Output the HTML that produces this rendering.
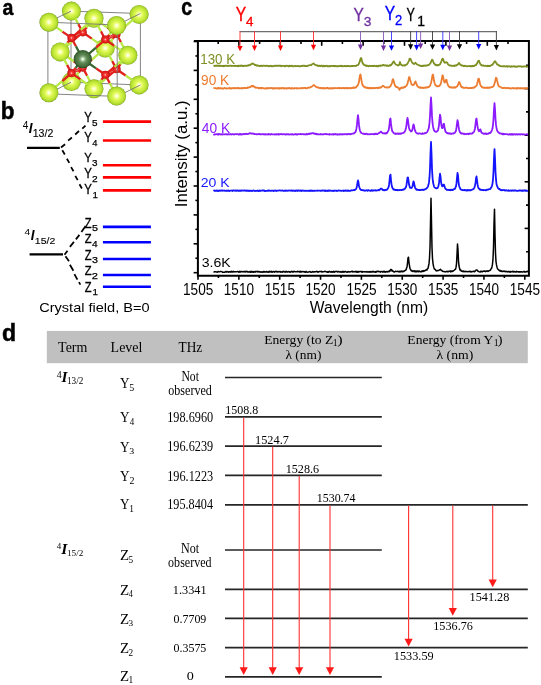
<!DOCTYPE html>
<html><head><meta charset="utf-8"><title>Figure</title>
<style>html,body{margin:0;padding:0;background:#fff;} svg{display:block;}</style>
</head><body>
<svg width="541" height="685" viewBox="0 0 541 685">
<defs>
<radialGradient id="gg" cx="50%" cy="50%" r="50%">
<stop offset="0" stop-color="#ffffff"/><stop offset="0.08" stop-color="#fcffe0"/><stop offset="0.22" stop-color="#f2ff94"/><stop offset="0.42" stop-color="#dcf650"/><stop offset="0.7" stop-color="#c3e93a"/><stop offset="0.88" stop-color="#acd62c"/><stop offset="0.96" stop-color="#90bc20"/><stop offset="1" stop-color="#6c9212"/>
</radialGradient>
<radialGradient id="gd" cx="50%" cy="50%" r="50%">
<stop offset="0" stop-color="#f6fff2"/><stop offset="0.12" stop-color="#d2eccb"/><stop offset="0.3" stop-color="#84a87c"/><stop offset="0.5" stop-color="#5a8450"/><stop offset="0.8" stop-color="#466f3d"/><stop offset="0.95" stop-color="#2f5529"/><stop offset="1" stop-color="#1f3b1b"/>
</radialGradient>
<radialGradient id="gr" cx="50%" cy="50%" r="50%">
<stop offset="0" stop-color="#ffd6d0"/><stop offset="0.3" stop-color="#f43a36"/><stop offset="0.8" stop-color="#e01818"/><stop offset="1" stop-color="#a80e0e"/>
</radialGradient>
</defs>
<rect width="541" height="685" fill="#fff"/>
<text x="2.39" y="14.64" font-size="22.93" font-family="'Liberation Sans', Arial, sans-serif" fill="#000" font-weight="bold" textLength="10.88" lengthAdjust="spacingAndGlyphs" stroke="#000" stroke-width="0.5" >a</text>
<text x="0.69" y="118.61" font-size="24.67" font-family="'Liberation Sans', Arial, sans-serif" fill="#000" font-weight="bold" textLength="13.74" lengthAdjust="spacingAndGlyphs" stroke="#000" stroke-width="0.5" >b</text>
<text x="181.29" y="15.22" font-size="24.00" font-family="'Liberation Sans', Arial, sans-serif" fill="#000" font-weight="bold" textLength="10.90" lengthAdjust="spacingAndGlyphs" stroke="#000" stroke-width="0.5" >c</text>
<text x="1.98" y="341.12" font-size="24.00" font-family="'Liberation Sans', Arial, sans-serif" fill="#000" font-weight="bold" textLength="14.10" lengthAdjust="spacingAndGlyphs" stroke="#000" stroke-width="0.5" >d</text>
<line x1="71.00" y1="11.20" x2="71.00" y2="82.20" stroke="#767676" stroke-width="0.9"/>
<line x1="71.00" y1="11.20" x2="140.40" y2="13.50" stroke="#767676" stroke-width="0.9"/>
<line x1="71.00" y1="82.20" x2="140.40" y2="85.00" stroke="#767676" stroke-width="0.9"/>
<line x1="140.40" y1="13.50" x2="140.40" y2="85.00" stroke="#767676" stroke-width="0.9"/>
<circle cx="71.40" cy="11.10" r="9.5" fill="url(#gg)"/>
<circle cx="71.40" cy="81.60" r="9.5" fill="url(#gg)"/>
<circle cx="139.10" cy="14.40" r="9.5" fill="url(#gg)"/>
<circle cx="139.10" cy="84.90" r="9.5" fill="url(#gg)"/>
<circle cx="105.25" cy="48.00" r="9.5" fill="url(#gg)"/>
<line x1="81.06" y1="29.25" x2="78.32" y2="24.10" stroke="#e2201c" stroke-width="2.3"/><line x1="78.32" y1="24.10" x2="75.19" y2="18.23" stroke="#b8ea44" stroke-width="2.3"/>
<line x1="85.56" y1="34.31" x2="91.76" y2="38.62" stroke="#e2201c" stroke-width="2.3"/><line x1="91.76" y1="38.62" x2="98.62" y2="43.39" stroke="#b8ea44" stroke-width="2.3"/>
<line x1="80.51" y1="70.29" x2="78.74" y2="72.49" stroke="#e2201c" stroke-width="2.3"/><line x1="78.74" y1="72.49" x2="76.47" y2="75.31" stroke="#b8ea44" stroke-width="2.3"/>
<line x1="85.33" y1="65.29" x2="91.94" y2="59.56" stroke="#e2201c" stroke-width="2.3"/><line x1="91.94" y1="59.56" x2="99.15" y2="53.29" stroke="#b8ea44" stroke-width="2.3"/>
<line x1="119.18" y1="31.69" x2="125.79" y2="25.96" stroke="#e2201c" stroke-width="2.3"/><line x1="125.79" y1="25.96" x2="133.00" y2="19.69" stroke="#b8ea44" stroke-width="2.3"/>
<line x1="114.36" y1="36.69" x2="112.59" y2="38.89" stroke="#e2201c" stroke-width="2.3"/><line x1="112.59" y1="38.89" x2="110.32" y2="41.71" stroke="#b8ea44" stroke-width="2.3"/>
<line x1="119.41" y1="71.21" x2="125.61" y2="75.52" stroke="#e2201c" stroke-width="2.3"/><line x1="125.61" y1="75.52" x2="132.47" y2="80.29" stroke="#b8ea44" stroke-width="2.3"/>
<line x1="114.91" y1="66.15" x2="112.17" y2="61.00" stroke="#e2201c" stroke-width="2.3"/><line x1="112.17" y1="61.00" x2="109.04" y2="55.13" stroke="#b8ea44" stroke-width="2.3"/>
<circle cx="82.70" cy="32.33" r="4.1" fill="url(#gr)"/>
<circle cx="82.70" cy="67.58" r="4.1" fill="url(#gr)"/>
<circle cx="116.55" cy="33.97" r="4.1" fill="url(#gr)"/>
<circle cx="116.55" cy="69.22" r="4.1" fill="url(#gr)"/>
<line x1="84.89" y1="29.61" x2="86.66" y2="27.41" stroke="#e2201c" stroke-width="2.3"/><line x1="86.66" y1="27.41" x2="88.93" y2="24.59" stroke="#b8ea44" stroke-width="2.3"/>
<line x1="80.07" y1="34.61" x2="73.46" y2="40.34" stroke="#e2201c" stroke-width="2.3"/><line x1="73.46" y1="40.34" x2="66.25" y2="46.61" stroke="#b8ea44" stroke-width="2.3"/>
<line x1="84.34" y1="70.65" x2="87.08" y2="75.80" stroke="#e2201c" stroke-width="2.3"/><line x1="87.08" y1="75.80" x2="90.21" y2="81.67" stroke="#b8ea44" stroke-width="2.3"/>
<line x1="79.84" y1="65.59" x2="73.64" y2="61.28" stroke="#e2201c" stroke-width="2.3"/><line x1="73.64" y1="61.28" x2="66.78" y2="56.51" stroke="#b8ea44" stroke-width="2.3"/>
<line x1="113.69" y1="31.99" x2="107.49" y2="27.68" stroke="#e2201c" stroke-width="2.3"/><line x1="107.49" y1="27.68" x2="100.63" y2="22.91" stroke="#b8ea44" stroke-width="2.3"/>
<line x1="118.19" y1="37.05" x2="120.93" y2="42.20" stroke="#e2201c" stroke-width="2.3"/><line x1="120.93" y1="42.20" x2="124.06" y2="48.07" stroke="#b8ea44" stroke-width="2.3"/>
<line x1="113.92" y1="71.51" x2="107.31" y2="77.24" stroke="#e2201c" stroke-width="2.3"/><line x1="107.31" y1="77.24" x2="100.10" y2="83.51" stroke="#b8ea44" stroke-width="2.3"/>
<line x1="118.74" y1="66.51" x2="120.51" y2="64.31" stroke="#e2201c" stroke-width="2.3"/><line x1="120.51" y1="64.31" x2="122.78" y2="61.49" stroke="#b8ea44" stroke-width="2.3"/>
<line x1="74.58" y1="36.33" x2="79.57" y2="33.87" stroke="#e2201c" stroke-width="2.8"/><line x1="74.58" y1="36.33" x2="79.57" y2="33.87" stroke="#f7b0a8" stroke-width="0.6"/>
<line x1="74.58" y1="71.58" x2="79.57" y2="69.12" stroke="#e2201c" stroke-width="2.8"/><line x1="74.58" y1="71.58" x2="79.57" y2="69.12" stroke="#f7b0a8" stroke-width="0.6"/>
<line x1="108.43" y1="37.98" x2="113.42" y2="35.52" stroke="#e2201c" stroke-width="2.8"/><line x1="108.43" y1="37.98" x2="113.42" y2="35.52" stroke="#f7b0a8" stroke-width="0.6"/>
<line x1="108.43" y1="73.23" x2="113.42" y2="70.77" stroke="#e2201c" stroke-width="2.8"/><line x1="108.43" y1="73.23" x2="113.42" y2="70.77" stroke="#f7b0a8" stroke-width="0.6"/>
<line x1="47.90" y1="22.20" x2="71.00" y2="11.20" stroke="#767676" stroke-width="0.9"/>
<line x1="47.90" y1="93.80" x2="71.00" y2="82.20" stroke="#767676" stroke-width="0.9"/>
<line x1="117.20" y1="25.00" x2="140.40" y2="13.50" stroke="#767676" stroke-width="0.9"/>
<line x1="117.20" y1="96.40" x2="140.40" y2="85.00" stroke="#767676" stroke-width="0.9"/>
<circle cx="94.00" cy="18.30" r="9.5" fill="url(#gg)"/>
<circle cx="94.00" cy="88.80" r="9.5" fill="url(#gg)"/>
<circle cx="60.15" cy="51.90" r="9.5" fill="url(#gg)"/>
<circle cx="127.85" cy="55.20" r="9.5" fill="url(#gg)"/>
<line x1="74.08" y1="35.59" x2="80.69" y2="29.86" stroke="#e2201c" stroke-width="2.3"/><line x1="80.69" y1="29.86" x2="87.90" y2="23.59" stroke="#b8ea44" stroke-width="2.3"/>
<line x1="69.26" y1="40.59" x2="67.49" y2="42.79" stroke="#e2201c" stroke-width="2.3"/><line x1="67.49" y1="42.79" x2="65.22" y2="45.61" stroke="#b8ea44" stroke-width="2.3"/>
<line x1="74.31" y1="75.11" x2="80.51" y2="79.42" stroke="#e2201c" stroke-width="2.3"/><line x1="80.51" y1="79.42" x2="87.37" y2="84.19" stroke="#b8ea44" stroke-width="2.3"/>
<line x1="69.81" y1="70.05" x2="67.07" y2="64.90" stroke="#e2201c" stroke-width="2.3"/><line x1="67.07" y1="64.90" x2="63.94" y2="59.03" stroke="#b8ea44" stroke-width="2.3"/>
<line x1="103.66" y1="36.45" x2="100.92" y2="31.30" stroke="#e2201c" stroke-width="2.3"/><line x1="100.92" y1="31.30" x2="97.79" y2="25.43" stroke="#b8ea44" stroke-width="2.3"/>
<line x1="108.16" y1="41.51" x2="114.36" y2="45.82" stroke="#e2201c" stroke-width="2.3"/><line x1="114.36" y1="45.82" x2="121.22" y2="50.59" stroke="#b8ea44" stroke-width="2.3"/>
<line x1="103.11" y1="77.49" x2="101.34" y2="79.69" stroke="#e2201c" stroke-width="2.3"/><line x1="101.34" y1="79.69" x2="99.07" y2="82.51" stroke="#b8ea44" stroke-width="2.3"/>
<line x1="107.93" y1="72.49" x2="114.54" y2="66.76" stroke="#e2201c" stroke-width="2.3"/><line x1="114.54" y1="66.76" x2="121.75" y2="60.49" stroke="#b8ea44" stroke-width="2.3"/>
<circle cx="71.45" cy="37.88" r="4.1" fill="url(#gr)"/>
<circle cx="71.45" cy="73.12" r="4.1" fill="url(#gr)"/>
<circle cx="105.30" cy="39.52" r="4.1" fill="url(#gr)"/>
<circle cx="105.30" cy="74.77" r="4.1" fill="url(#gr)"/>
<line x1="68.59" y1="35.89" x2="62.39" y2="31.58" stroke="#e2201c" stroke-width="2.3"/><line x1="62.39" y1="31.58" x2="55.53" y2="26.81" stroke="#b8ea44" stroke-width="2.3"/>
<line x1="73.09" y1="40.95" x2="75.93" y2="46.28" stroke="#e2201c" stroke-width="2.3"/><line x1="75.93" y1="46.28" x2="79.12" y2="52.27" stroke="#3a6630" stroke-width="2.3"/>
<line x1="68.82" y1="75.41" x2="62.21" y2="81.14" stroke="#e2201c" stroke-width="2.3"/><line x1="62.21" y1="81.14" x2="55.00" y2="87.41" stroke="#b8ea44" stroke-width="2.3"/>
<line x1="73.64" y1="70.41" x2="75.53" y2="68.06" stroke="#e2201c" stroke-width="2.3"/><line x1="75.53" y1="68.06" x2="77.90" y2="65.12" stroke="#3a6630" stroke-width="2.3"/>
<line x1="107.49" y1="36.81" x2="109.26" y2="34.61" stroke="#e2201c" stroke-width="2.3"/><line x1="109.26" y1="34.61" x2="111.53" y2="31.79" stroke="#b8ea44" stroke-width="2.3"/>
<line x1="102.67" y1="41.81" x2="95.91" y2="47.67" stroke="#e2201c" stroke-width="2.3"/><line x1="95.91" y1="47.67" x2="88.59" y2="54.03" stroke="#3a6630" stroke-width="2.3"/>
<line x1="106.94" y1="77.85" x2="109.68" y2="83.00" stroke="#e2201c" stroke-width="2.3"/><line x1="109.68" y1="83.00" x2="112.81" y2="88.87" stroke="#b8ea44" stroke-width="2.3"/>
<line x1="102.44" y1="72.79" x2="96.08" y2="68.36" stroke="#e2201c" stroke-width="2.3"/><line x1="96.08" y1="68.36" x2="89.10" y2="63.51" stroke="#3a6630" stroke-width="2.3"/>
<line x1="47.90" y1="22.20" x2="47.90" y2="93.80" stroke="#767676" stroke-width="0.9"/>
<line x1="47.90" y1="22.20" x2="117.20" y2="25.00" stroke="#767676" stroke-width="0.9"/>
<line x1="47.90" y1="93.80" x2="117.20" y2="96.40" stroke="#767676" stroke-width="0.9"/>
<line x1="117.20" y1="25.00" x2="117.20" y2="96.40" stroke="#767676" stroke-width="0.9"/>
<circle cx="48.90" cy="22.20" r="9.5" fill="url(#gg)"/>
<circle cx="48.90" cy="92.70" r="9.5" fill="url(#gg)"/>
<circle cx="116.60" cy="25.50" r="9.5" fill="url(#gg)"/>
<circle cx="116.60" cy="96.00" r="9.5" fill="url(#gg)"/>
<circle cx="82.75" cy="59.10" r="9.1" fill="url(#gd)"/>
<text x="22.64" y="128.50" font-size="10.24" font-family="'Liberation Sans', Arial, sans-serif" fill="#000" textLength="5.61" lengthAdjust="spacingAndGlyphs" >4</text>
<text x="28.79" y="133.00" font-size="14.22" font-family="'Liberation Sans', Arial, sans-serif" fill="#000" font-weight="bold" font-style="italic" textLength="3.75" lengthAdjust="spacingAndGlyphs" >I</text>
<text x="32.74" y="137.30" font-size="10.08" font-family="'Liberation Sans', Arial, sans-serif" fill="#000" textLength="20.59" lengthAdjust="spacingAndGlyphs" stroke="#000" stroke-width="0.12" >13/2</text>
<line x1="27" y1="147.9" x2="59.8" y2="147.9" stroke="#000" stroke-width="2.3"/>
<path d="M61.0 147.5 L65.1 144.3 M68.1 140.7 L71.9 137.5 M75.2 134.5 L79.0 131.0 M82.3 128.6 L85.5 125.6 M62.3 150.3 L64.8 154.5 M66.9 158.7 L69.3 162.9 M71.1 167.1 L73.5 171.3 M75.3 175.9 L77.7 180.1 M79.5 184.3 L81.9 188.5" stroke="#000" stroke-width="1.75" fill="none"/>
<text x="84.22" y="121.70" font-size="14.79" font-family="'Liberation Sans', Arial, sans-serif" fill="#000" textLength="7.60" lengthAdjust="spacingAndGlyphs" stroke="#000" stroke-width="0.35" >Y</text>
<text x="92.09" y="125.65" font-size="9.60" font-family="'Liberation Sans', Arial, sans-serif" fill="#000" textLength="5.51" lengthAdjust="spacingAndGlyphs" stroke="#000" stroke-width="0.25" >5</text>
<text x="84.22" y="141.80" font-size="14.79" font-family="'Liberation Sans', Arial, sans-serif" fill="#000" textLength="7.60" lengthAdjust="spacingAndGlyphs" stroke="#000" stroke-width="0.35" >Y</text>
<text x="92.25" y="146.00" font-size="9.81" font-family="'Liberation Sans', Arial, sans-serif" fill="#000" textLength="5.18" lengthAdjust="spacingAndGlyphs" stroke="#000" stroke-width="0.25" >4</text>
<text x="84.22" y="162.40" font-size="13.51" font-family="'Liberation Sans', Arial, sans-serif" fill="#000" textLength="7.60" lengthAdjust="spacingAndGlyphs" stroke="#000" stroke-width="0.35" >Y</text>
<text x="92.09" y="165.95" font-size="9.60" font-family="'Liberation Sans', Arial, sans-serif" fill="#000" textLength="5.51" lengthAdjust="spacingAndGlyphs" stroke="#000" stroke-width="0.25" >3</text>
<text x="84.22" y="177.90" font-size="13.80" font-family="'Liberation Sans', Arial, sans-serif" fill="#000" textLength="7.60" lengthAdjust="spacingAndGlyphs" stroke="#000" stroke-width="0.35" >Y</text>
<text x="91.92" y="182.10" font-size="9.81" font-family="'Liberation Sans', Arial, sans-serif" fill="#000" textLength="5.69" lengthAdjust="spacingAndGlyphs" stroke="#000" stroke-width="0.25" >2</text>
<text x="84.22" y="193.90" font-size="13.80" font-family="'Liberation Sans', Arial, sans-serif" fill="#000" textLength="7.60" lengthAdjust="spacingAndGlyphs" stroke="#000" stroke-width="0.35" >Y</text>
<text x="92.39" y="198.30" font-size="9.81" font-family="'Liberation Sans', Arial, sans-serif" fill="#000" stroke="#000" stroke-width="0.25" >1</text>
<line x1="102.9" y1="121.6" x2="151.1" y2="121.6" stroke="#ff0000" stroke-width="2.6"/>
<line x1="102.9" y1="140.5" x2="151.1" y2="140.5" stroke="#ff0000" stroke-width="2.6"/>
<line x1="102.9" y1="165.2" x2="151.1" y2="165.2" stroke="#ff0000" stroke-width="2.6"/>
<line x1="102.9" y1="177.4" x2="151.1" y2="177.4" stroke="#ff0000" stroke-width="2.6"/>
<line x1="102.9" y1="190.4" x2="151.1" y2="190.4" stroke="#ff0000" stroke-width="2.6"/>
<text x="24.64" y="235.00" font-size="9.67" font-family="'Liberation Sans', Arial, sans-serif" fill="#000" textLength="5.61" lengthAdjust="spacingAndGlyphs" >4</text>
<text x="30.79" y="239.70" font-size="13.80" font-family="'Liberation Sans', Arial, sans-serif" fill="#000" font-weight="bold" font-style="italic" textLength="3.75" lengthAdjust="spacingAndGlyphs" >I</text>
<text x="34.85" y="243.60" font-size="9.67" font-family="'Liberation Sans', Arial, sans-serif" fill="#000" textLength="20.38" lengthAdjust="spacingAndGlyphs" stroke="#000" stroke-width="0.12" >15/2</text>
<line x1="29.6" y1="254.4" x2="63" y2="254.4" stroke="#000" stroke-width="2.3"/>
<path d="M64.5 254.8 L67.5 250.8 M69.9 246.9 L73.9 241.9 M75.9 239.4 L79.4 234.9 M81.4 231.9 L85.6 226.0 M65.5 256.3 L69.0 261.3 M69.9 264.7 L73.4 270.7 M74.4 274.2 L77.4 279.7 M78.9 282.1 L80.4 284.6" stroke="#000" stroke-width="1.75" fill="none"/>
<text x="84.65" y="227.50" font-size="14.22" font-family="'Liberation Sans', Arial, sans-serif" fill="#000" textLength="6.84" lengthAdjust="spacingAndGlyphs" stroke="#000" stroke-width="0.35" >Z</text>
<text x="91.96" y="230.65" font-size="9.60" font-family="'Liberation Sans', Arial, sans-serif" fill="#000" textLength="5.97" lengthAdjust="spacingAndGlyphs" stroke="#000" stroke-width="0.25" >5</text>
<text x="84.65" y="243.30" font-size="13.65" font-family="'Liberation Sans', Arial, sans-serif" fill="#000" textLength="6.84" lengthAdjust="spacingAndGlyphs" stroke="#000" stroke-width="0.35" >Z</text>
<text x="92.14" y="246.70" font-size="9.81" font-family="'Liberation Sans', Arial, sans-serif" fill="#000" textLength="5.61" lengthAdjust="spacingAndGlyphs" stroke="#000" stroke-width="0.25" >4</text>
<text x="84.65" y="259.70" font-size="14.22" font-family="'Liberation Sans', Arial, sans-serif" fill="#000" textLength="6.84" lengthAdjust="spacingAndGlyphs" stroke="#000" stroke-width="0.35" >Z</text>
<text x="91.96" y="262.85" font-size="9.60" font-family="'Liberation Sans', Arial, sans-serif" fill="#000" textLength="5.97" lengthAdjust="spacingAndGlyphs" stroke="#000" stroke-width="0.25" >3</text>
<text x="84.65" y="275.30" font-size="13.51" font-family="'Liberation Sans', Arial, sans-serif" fill="#000" textLength="6.84" lengthAdjust="spacingAndGlyphs" stroke="#000" stroke-width="0.35" >Z</text>
<text x="91.78" y="279.20" font-size="9.81" font-family="'Liberation Sans', Arial, sans-serif" fill="#000" textLength="6.17" lengthAdjust="spacingAndGlyphs" stroke="#000" stroke-width="0.25" >2</text>
<text x="84.65" y="291.70" font-size="14.22" font-family="'Liberation Sans', Arial, sans-serif" fill="#000" textLength="6.84" lengthAdjust="spacingAndGlyphs" stroke="#000" stroke-width="0.35" >Z</text>
<text x="92.39" y="294.70" font-size="9.81" font-family="'Liberation Sans', Arial, sans-serif" fill="#000" stroke="#000" stroke-width="0.25" >1</text>
<line x1="102.9" y1="226.9" x2="150.9" y2="226.9" stroke="#0000ff" stroke-width="2.6"/>
<line x1="102.9" y1="242.3" x2="150.9" y2="242.3" stroke="#0000ff" stroke-width="2.6"/>
<line x1="102.9" y1="259.0" x2="150.9" y2="259.0" stroke="#0000ff" stroke-width="2.6"/>
<line x1="102.9" y1="275.0" x2="150.9" y2="275.0" stroke="#0000ff" stroke-width="2.6"/>
<line x1="102.9" y1="286.7" x2="150.9" y2="286.7" stroke="#0000ff" stroke-width="2.6"/>
<text x="39.22" y="311.50" font-size="13.62" font-family="'Liberation Sans', Arial, sans-serif" fill="#000" textLength="110.34" lengthAdjust="spacingAndGlyphs" >Crystal field, B=0</text>
<g fill="none" stroke="#000">
<path d="M194 41 L529 41 M197.9 40 L197.9 276.8 M197 275.7 L529.8 275.7 M528.9 40 L528.9 276.8" stroke-width="2"/>
<line x1="193.6" y1="272.70" x2="198" y2="272.70" stroke-width="1.6"/>
<line x1="195.4" y1="258.25" x2="198" y2="258.25" stroke-width="1.6"/>
<line x1="193.6" y1="243.80" x2="198" y2="243.80" stroke-width="1.6"/>
<line x1="195.4" y1="229.35" x2="198" y2="229.35" stroke-width="1.6"/>
<line x1="193.6" y1="214.90" x2="198" y2="214.90" stroke-width="1.6"/>
<line x1="195.4" y1="200.45" x2="198" y2="200.45" stroke-width="1.6"/>
<line x1="193.6" y1="186.00" x2="198" y2="186.00" stroke-width="1.6"/>
<line x1="195.4" y1="171.55" x2="198" y2="171.55" stroke-width="1.6"/>
<line x1="193.6" y1="157.10" x2="198" y2="157.10" stroke-width="1.6"/>
<line x1="195.4" y1="142.65" x2="198" y2="142.65" stroke-width="1.6"/>
<line x1="193.6" y1="128.20" x2="198" y2="128.20" stroke-width="1.6"/>
<line x1="195.4" y1="113.75" x2="198" y2="113.75" stroke-width="1.6"/>
<line x1="193.6" y1="99.30" x2="198" y2="99.30" stroke-width="1.6"/>
<line x1="195.4" y1="84.85" x2="198" y2="84.85" stroke-width="1.6"/>
<line x1="193.6" y1="70.40" x2="198" y2="70.40" stroke-width="1.6"/>
<line x1="195.4" y1="55.95" x2="198" y2="55.95" stroke-width="1.6"/>
<line x1="193.6" y1="41.50" x2="198" y2="41.50" stroke-width="1.6"/>
<line x1="526.0" y1="251.70" x2="528" y2="251.70" stroke-width="1.6"/>
<line x1="524.6" y1="228.40" x2="528" y2="228.40" stroke-width="1.6"/>
<line x1="526.0" y1="205.10" x2="528" y2="205.10" stroke-width="1.6"/>
<line x1="524.6" y1="181.80" x2="528" y2="181.80" stroke-width="1.6"/>
<line x1="526.0" y1="158.50" x2="528" y2="158.50" stroke-width="1.6"/>
<line x1="524.6" y1="135.20" x2="528" y2="135.20" stroke-width="1.6"/>
<line x1="526.0" y1="111.90" x2="528" y2="111.90" stroke-width="1.6"/>
<line x1="524.6" y1="88.60" x2="528" y2="88.60" stroke-width="1.6"/>
<line x1="526.0" y1="65.30" x2="528" y2="65.30" stroke-width="1.6"/>
<line x1="198.00" y1="276" x2="198.00" y2="279.8" stroke-width="1.6"/>
<line x1="218.43" y1="276" x2="218.43" y2="278.0" stroke-width="1.6"/>
<line x1="238.85" y1="276" x2="238.85" y2="279.8" stroke-width="1.6"/>
<line x1="259.27" y1="276" x2="259.27" y2="278.0" stroke-width="1.6"/>
<line x1="279.70" y1="276" x2="279.70" y2="279.8" stroke-width="1.6"/>
<line x1="300.12" y1="276" x2="300.12" y2="278.0" stroke-width="1.6"/>
<line x1="320.55" y1="276" x2="320.55" y2="279.8" stroke-width="1.6"/>
<line x1="340.98" y1="276" x2="340.98" y2="278.0" stroke-width="1.6"/>
<line x1="361.40" y1="276" x2="361.40" y2="279.8" stroke-width="1.6"/>
<line x1="381.82" y1="276" x2="381.82" y2="278.0" stroke-width="1.6"/>
<line x1="402.25" y1="276" x2="402.25" y2="279.8" stroke-width="1.6"/>
<line x1="422.68" y1="276" x2="422.68" y2="278.0" stroke-width="1.6"/>
<line x1="443.10" y1="276" x2="443.10" y2="279.8" stroke-width="1.6"/>
<line x1="463.52" y1="276" x2="463.52" y2="278.0" stroke-width="1.6"/>
<line x1="483.95" y1="276" x2="483.95" y2="279.8" stroke-width="1.6"/>
<line x1="504.38" y1="276" x2="504.38" y2="278.0" stroke-width="1.6"/>
<line x1="524.80" y1="276" x2="524.80" y2="279.8" stroke-width="1.6"/>
<line x1="218.20" y1="41.5" x2="218.20" y2="44.0" stroke-width="1.6"/>
<line x1="238.90" y1="41.5" x2="238.90" y2="45.8" stroke-width="1.6"/>
<line x1="259.60" y1="41.5" x2="259.60" y2="44.0" stroke-width="1.6"/>
<line x1="280.30" y1="41.5" x2="280.30" y2="45.8" stroke-width="1.6"/>
<line x1="301.00" y1="41.5" x2="301.00" y2="44.0" stroke-width="1.6"/>
<line x1="321.70" y1="41.5" x2="321.70" y2="45.8" stroke-width="1.6"/>
<line x1="342.40" y1="41.5" x2="342.40" y2="44.0" stroke-width="1.6"/>
<line x1="363.10" y1="41.5" x2="363.10" y2="45.8" stroke-width="1.6"/>
<line x1="383.80" y1="41.5" x2="383.80" y2="44.0" stroke-width="1.6"/>
<line x1="404.50" y1="41.5" x2="404.50" y2="45.8" stroke-width="1.6"/>
<line x1="425.20" y1="41.5" x2="425.20" y2="44.0" stroke-width="1.6"/>
<line x1="445.90" y1="41.5" x2="445.90" y2="45.8" stroke-width="1.6"/>
<line x1="466.60" y1="41.5" x2="466.60" y2="44.0" stroke-width="1.6"/>
<line x1="487.30" y1="41.5" x2="487.30" y2="45.8" stroke-width="1.6"/>
<line x1="508.00" y1="41.5" x2="508.00" y2="44.0" stroke-width="1.6"/>
</g>
<text x="183.00" y="295.00" font-size="16.07" font-family="'Liberation Sans', Arial, sans-serif" fill="#000" textLength="30.30" lengthAdjust="spacingAndGlyphs" >1505</text>
<text x="223.85" y="295.00" font-size="16.07" font-family="'Liberation Sans', Arial, sans-serif" fill="#000" textLength="30.08" lengthAdjust="spacingAndGlyphs" >1510</text>
<text x="264.70" y="295.00" font-size="16.07" font-family="'Liberation Sans', Arial, sans-serif" fill="#000" textLength="30.30" lengthAdjust="spacingAndGlyphs" >1515</text>
<text x="305.55" y="295.00" font-size="16.07" font-family="'Liberation Sans', Arial, sans-serif" fill="#000" textLength="30.08" lengthAdjust="spacingAndGlyphs" >1520</text>
<text x="346.40" y="295.00" font-size="16.07" font-family="'Liberation Sans', Arial, sans-serif" fill="#000" textLength="30.30" lengthAdjust="spacingAndGlyphs" >1525</text>
<text x="387.25" y="295.00" font-size="16.07" font-family="'Liberation Sans', Arial, sans-serif" fill="#000" textLength="30.08" lengthAdjust="spacingAndGlyphs" >1530</text>
<text x="428.10" y="295.00" font-size="16.07" font-family="'Liberation Sans', Arial, sans-serif" fill="#000" textLength="30.30" lengthAdjust="spacingAndGlyphs" >1535</text>
<text x="468.95" y="295.00" font-size="16.07" font-family="'Liberation Sans', Arial, sans-serif" fill="#000" textLength="30.08" lengthAdjust="spacingAndGlyphs" >1540</text>
<text x="509.80" y="295.00" font-size="16.07" font-family="'Liberation Sans', Arial, sans-serif" fill="#000" textLength="30.30" lengthAdjust="spacingAndGlyphs" >1545</text>
<text x="309.80" y="312.60" font-size="16.61" font-family="'Liberation Sans', Arial, sans-serif" fill="#000" textLength="118.51" lengthAdjust="spacingAndGlyphs" >Wavelength (nm)</text>
<text x="-1.32" y="0.00" font-size="17.02" font-family="'Liberation Sans', Arial, sans-serif" fill="#000" textLength="106.99" lengthAdjust="spacingAndGlyphs" transform="translate(187.2 206) rotate(-90)" >Intensity (a.u.)</text>
<polyline points="213.50,65.76 214.00,65.64 214.50,65.99 215.00,65.59 215.50,65.92 216.00,65.80 216.50,65.58 217.00,65.90 217.50,65.57 218.00,65.85 218.50,65.59 219.00,65.61 219.50,65.84 220.00,66.13 220.50,65.63 221.00,65.71 221.50,65.99 222.00,66.21 222.50,65.95 223.00,65.83 223.50,66.24 224.00,65.59 224.50,66.15 225.00,65.76 225.50,65.65 226.00,65.64 226.50,65.77 227.00,66.13 227.50,65.68 228.00,65.96 228.50,66.00 229.00,65.82 229.50,65.94 230.00,65.60 230.50,65.60 231.00,65.70 231.50,66.03 232.00,65.85 232.50,65.77 233.00,65.96 233.50,65.87 234.00,65.76 234.50,66.11 235.00,66.04 235.50,65.72 236.00,65.95 236.50,65.91 237.00,66.16 237.50,66.05 238.00,65.74 238.50,66.22 239.00,65.61 239.50,65.82 240.00,66.05 240.50,65.62 241.00,65.85 241.50,65.53 242.00,65.96 242.50,66.02 243.00,65.88 243.50,66.07 244.00,65.66 244.50,65.91 245.00,65.82 245.50,65.78 246.00,65.66 246.50,65.89 247.00,65.92 247.50,65.52 248.00,65.58 248.50,65.06 249.00,65.38 249.50,65.18 250.00,65.22 250.50,64.85 251.00,64.18 251.50,63.97 252.00,63.95 252.50,63.45 253.00,63.88 253.50,63.93 254.00,64.19 254.50,64.43 255.00,65.16 255.50,64.90 256.00,65.13 256.50,65.35 257.00,65.78 257.50,65.30 258.00,65.61 258.50,65.73 259.00,66.00 259.50,65.99 260.00,66.05 260.50,65.66 261.00,65.78 261.50,65.75 262.00,66.14 262.50,66.20 263.00,65.65 263.50,65.68 264.00,65.72 264.50,65.73 265.00,65.92 265.50,66.00 266.00,65.77 266.50,65.60 267.00,65.89 267.50,65.86 268.00,66.00 268.50,66.28 269.00,66.10 269.50,65.98 270.00,66.05 270.50,66.10 271.00,65.67 271.50,66.26 272.00,66.18 272.50,66.25 273.00,66.20 273.50,65.92 274.00,65.92 274.50,65.72 275.00,66.09 275.50,65.69 276.00,65.70 276.50,65.80 277.00,65.77 277.50,65.89 278.00,65.69 278.50,65.66 279.00,65.77 279.50,65.73 280.00,65.92 280.50,65.68 281.00,66.28 281.50,66.10 282.00,65.77 282.50,65.85 283.00,65.91 283.50,65.93 284.00,65.76 284.50,66.27 285.00,66.37 285.50,66.00 286.00,66.01 286.50,65.74 287.00,65.75 287.50,65.92 288.00,65.86 288.50,66.26 289.00,65.79 289.50,65.70 290.00,66.35 290.50,66.05 291.00,65.78 291.50,66.06 292.00,65.70 292.50,66.05 293.00,66.37 293.50,66.28 294.00,66.17 294.50,65.86 295.00,65.93 295.50,65.79 296.00,66.22 296.50,66.05 297.00,66.22 297.50,65.90 298.00,65.83 298.50,66.24 299.00,66.35 299.50,66.26 300.00,66.22 300.50,66.23 301.00,66.17 301.50,65.80 302.00,66.00 302.50,65.88 303.00,65.64 303.50,65.63 304.00,65.80 304.50,65.77 305.00,66.06 305.50,66.22 306.00,65.84 306.50,66.16 307.00,66.16 307.50,66.09 308.00,65.63 308.50,65.46 309.00,65.38 309.50,65.25 310.00,65.12 310.50,65.23 311.00,65.18 311.50,64.84 312.00,64.23 312.50,64.00 313.00,63.86 313.50,63.33 314.00,63.95 314.50,64.46 315.00,64.74 315.50,65.03 316.00,65.09 316.50,65.08 317.00,65.66 317.50,65.45 318.00,65.87 318.50,66.06 319.00,65.72 319.50,65.76 320.00,66.18 320.50,66.06 321.00,65.70 321.50,65.69 322.00,65.72 322.50,66.27 323.00,66.21 323.50,65.76 324.00,66.25 324.50,66.36 325.00,66.15 325.50,65.94 326.00,66.08 326.50,65.80 327.00,65.72 327.50,66.40 328.00,66.17 328.50,66.09 329.00,66.38 329.50,66.03 330.00,66.34 330.50,66.32 331.00,65.89 331.50,65.92 332.00,65.95 332.50,65.91 333.00,66.16 333.50,65.93 334.00,66.04 334.50,65.84 335.00,66.39 335.50,66.00 336.00,66.08 336.50,66.17 337.00,66.39 337.50,66.05 338.00,66.40 338.50,66.11 339.00,66.13 339.50,66.13 340.00,65.77 340.50,66.07 341.00,65.89 341.50,65.76 342.00,66.32 342.50,65.88 343.00,66.09 343.50,66.26 344.00,66.14 344.50,65.98 345.00,66.11 345.50,66.13 346.00,66.29 346.50,65.81 347.00,66.13 347.50,65.90 348.00,65.92 348.50,66.26 349.00,66.06 349.50,66.09 350.00,66.22 350.50,66.32 351.00,65.98 351.50,66.08 352.00,65.99 352.50,65.97 353.00,66.07 353.50,65.87 354.00,65.89 354.50,65.81 355.00,66.07 355.50,65.83 356.00,65.86 356.50,65.78 357.00,65.14 357.50,65.12 358.00,65.06 358.50,64.51 359.00,63.30 359.50,62.19 360.00,60.84 360.50,58.79 361.00,58.00 361.50,58.79 362.00,61.00 362.50,62.66 363.00,63.83 363.50,64.03 364.00,64.90 364.50,65.19 365.00,65.06 365.50,65.74 366.00,65.93 366.50,65.50 367.00,66.08 367.50,65.75 368.00,65.86 368.50,66.25 369.00,66.17 369.50,65.73 370.00,65.94 370.50,66.01 371.00,65.90 371.50,65.81 372.00,65.91 372.50,66.20 373.00,65.71 373.50,66.09 374.00,66.01 374.50,65.72 375.00,65.94 375.50,66.14 376.00,66.06 376.50,65.74 377.00,66.37 377.50,66.22 378.00,66.33 378.50,65.70 379.00,65.79 379.50,65.59 380.00,66.06 380.50,65.63 381.00,65.45 381.50,65.53 382.00,65.72 382.50,65.49 383.00,64.96 383.50,64.84 384.00,65.45 384.50,65.35 385.00,65.58 385.50,65.27 386.00,65.33 386.50,65.83 387.00,65.67 387.50,65.43 388.00,66.03 388.50,65.78 389.00,65.84 389.50,65.25 390.00,65.67 390.50,64.94 391.00,65.23 391.50,64.55 392.00,63.89 392.50,63.21 393.00,62.52 393.50,61.46 394.00,61.63 394.50,62.80 395.00,63.49 395.50,64.06 396.00,64.54 396.50,64.76 397.00,65.05 397.50,65.23 398.00,65.25 398.50,65.49 399.00,64.86 399.50,63.99 400.00,62.03 400.50,63.91 401.00,64.72 401.50,65.22 402.00,65.18 402.50,65.71 403.00,65.58 403.50,65.29 404.00,65.42 404.50,65.65 405.00,64.95 405.50,65.27 406.00,64.77 406.50,64.51 407.00,64.32 407.50,63.42 408.00,62.67 408.50,61.69 409.00,60.55 409.50,58.82 410.00,58.59 410.50,59.03 411.00,60.21 411.50,61.34 412.00,62.33 412.50,62.86 413.00,63.37 413.50,63.57 414.00,64.07 414.50,63.56 415.00,63.16 415.50,62.78 416.00,63.37 416.50,63.87 417.00,64.33 417.50,64.54 418.00,64.86 418.50,65.14 419.00,65.42 419.50,65.33 420.00,65.62 420.50,65.56 421.00,66.09 421.50,66.14 422.00,65.86 422.50,65.67 423.00,66.18 423.50,65.72 424.00,65.75 424.50,65.49 425.00,65.74 425.50,65.77 426.00,65.75 426.50,65.48 427.00,65.62 427.50,65.17 428.00,65.22 428.50,64.91 429.00,64.87 429.50,64.25 430.00,63.70 430.50,63.10 431.00,61.91 431.50,60.75 432.00,59.64 432.50,59.92 433.00,61.04 433.50,62.44 434.00,63.59 434.50,63.96 435.00,64.38 435.50,65.14 436.00,64.74 436.50,65.26 437.00,65.25 437.50,64.83 438.00,65.33 438.50,65.25 439.00,64.88 439.50,64.67 440.00,64.28 440.50,63.16 441.00,62.44 441.50,61.04 442.00,59.65 442.50,58.58 443.00,58.98 443.50,60.19 444.00,61.74 444.50,62.46 445.00,62.86 445.50,62.52 446.00,62.11 446.50,62.04 447.00,62.57 447.50,63.13 448.00,64.35 448.50,64.68 449.00,65.10 449.50,65.36 450.00,65.58 450.50,65.58 451.00,65.33 451.50,65.96 452.00,65.97 452.50,65.83 453.00,65.87 453.50,65.96 454.00,65.53 454.50,65.97 455.00,65.58 455.50,65.37 456.00,65.38 456.50,65.51 457.00,64.86 457.50,64.79 458.00,64.35 458.50,63.36 459.00,62.97 459.50,63.36 460.00,64.18 460.50,64.86 461.00,65.20 461.50,65.53 462.00,65.35 462.50,65.54 463.00,65.72 463.50,66.14 464.00,65.89 464.50,66.11 465.00,65.76 465.50,65.81 466.00,65.98 466.50,66.27 467.00,66.30 467.50,66.29 468.00,66.03 468.50,66.18 469.00,66.14 469.50,66.14 470.00,65.88 470.50,66.41 471.00,65.91 471.50,66.43 472.00,66.36 472.50,65.68 473.00,65.93 473.50,66.12 474.00,66.13 474.50,65.64 475.00,65.34 475.50,65.06 476.00,65.23 476.50,64.20 477.00,63.71 477.50,62.34 478.00,61.38 478.50,60.90 479.00,60.69 479.50,62.32 480.00,63.26 480.50,64.39 481.00,64.86 481.50,64.93 482.00,65.67 482.50,65.57 483.00,65.38 483.50,65.47 484.00,65.88 484.50,65.90 485.00,65.83 485.50,65.74 486.00,65.90 486.50,65.88 487.00,66.24 487.50,65.63 488.00,66.13 488.50,66.15 489.00,65.60 489.50,66.09 490.00,65.84 490.50,65.85 491.00,65.26 491.50,65.09 492.00,64.81 492.50,64.82 493.00,63.99 493.50,63.14 494.00,62.39 494.50,61.58 495.00,61.14 495.50,61.47 496.00,62.70 496.50,63.11 497.00,64.27 497.50,64.35 498.00,64.77 498.50,65.26 499.00,65.26 499.50,65.57 500.00,66.12 500.50,66.18 501.00,66.21 501.50,66.15 502.00,66.41 502.50,66.48 503.00,66.24 503.50,66.40 504.00,65.96 504.50,66.46 505.00,66.28 505.50,66.52 506.00,66.46 506.50,66.22 507.00,66.07 507.50,66.70 508.00,66.15 508.50,66.40 509.00,66.32 509.50,66.29 510.00,66.61 510.50,66.78 511.00,66.29 511.50,66.57 512.00,66.33 512.50,66.51 513.00,66.41 513.50,66.25 514.00,66.25 514.50,66.29 515.00,66.78 515.50,66.50 516.00,66.31 516.50,66.79 517.00,66.86 517.50,66.48 518.00,66.27 518.50,66.31 519.00,66.24 519.50,66.42 520.00,66.24 520.50,66.35 521.00,66.37 521.50,66.59 522.00,66.81 522.50,66.72 523.00,66.48 523.50,66.49 524.00,66.57 524.50,66.47 525.00,66.44 525.50,66.25 526.00,66.40 526.50,66.89 527.00,66.30 527.50,66.57 528.00,66.66" fill="none" stroke="#7f8f22" stroke-width="1.8" stroke-linejoin="round"/>
<polyline points="213.50,88.54 214.00,88.09 214.50,88.12 215.00,88.11 215.50,88.21 216.00,88.25 216.50,88.60 217.00,88.53 217.50,88.54 218.00,87.95 218.50,87.96 219.00,88.43 219.50,88.56 220.00,88.26 220.50,88.34 221.00,87.93 221.50,88.21 222.00,88.58 222.50,88.51 223.00,88.53 223.50,88.61 224.00,88.10 224.50,88.01 225.00,88.04 225.50,88.29 226.00,88.40 226.50,88.59 227.00,88.43 227.50,88.38 228.00,88.46 228.50,88.24 229.00,88.31 229.50,87.95 230.00,88.47 230.50,88.08 231.00,88.56 231.50,88.37 232.00,88.13 232.50,88.00 233.00,88.09 233.50,88.36 234.00,88.40 234.50,87.98 235.00,87.95 235.50,88.27 236.00,88.31 236.50,88.17 237.00,88.05 237.50,88.31 238.00,87.89 238.50,88.09 239.00,88.20 239.50,88.54 240.00,88.31 240.50,88.47 241.00,88.18 241.50,88.00 242.00,88.00 242.50,88.49 243.00,88.30 243.50,88.00 244.00,87.78 244.50,88.10 245.00,88.19 245.50,87.99 246.00,87.83 246.50,88.08 247.00,88.20 247.50,87.65 248.00,87.42 248.50,87.53 249.00,87.45 249.50,87.45 250.00,86.89 250.50,87.03 251.00,86.68 251.50,86.20 252.00,85.76 252.50,86.23 253.00,85.91 253.50,86.54 254.00,86.45 254.50,86.75 255.00,87.38 255.50,87.26 256.00,87.88 256.50,87.69 257.00,87.57 257.50,87.67 258.00,87.87 258.50,88.10 259.00,88.34 259.50,87.81 260.00,88.01 260.50,87.91 261.00,88.46 261.50,87.89 262.00,87.85 262.50,87.87 263.00,88.11 263.50,88.47 264.00,88.47 264.50,88.37 265.00,88.57 265.50,88.53 266.00,88.11 266.50,88.01 267.00,88.54 267.50,88.41 268.00,87.92 268.50,88.36 269.00,88.17 269.50,88.17 270.00,88.14 270.50,88.03 271.00,87.91 271.50,88.11 272.00,88.16 272.50,88.59 273.00,88.00 273.50,88.59 274.00,88.07 274.50,88.17 275.00,88.50 275.50,88.50 276.00,88.23 276.50,87.96 277.00,88.26 277.50,88.19 278.00,88.57 278.50,88.06 279.00,88.18 279.50,88.56 280.00,87.95 280.50,88.22 281.00,88.50 281.50,88.47 282.00,87.96 282.50,87.95 283.00,87.97 283.50,88.57 284.00,88.11 284.50,88.45 285.00,88.56 285.50,88.17 286.00,88.12 286.50,88.60 287.00,88.36 287.50,88.11 288.00,88.43 288.50,88.15 289.00,88.12 289.50,87.93 290.00,88.45 290.50,88.56 291.00,88.37 291.50,88.58 292.00,87.94 292.50,88.08 293.00,88.25 293.50,88.59 294.00,88.58 294.50,88.18 295.00,88.09 295.50,88.21 296.00,88.25 296.50,88.55 297.00,88.03 297.50,88.46 298.00,88.41 298.50,88.47 299.00,88.43 299.50,88.31 300.00,88.10 300.50,88.09 301.00,88.12 301.50,88.40 302.00,87.90 302.50,87.97 303.00,88.35 303.50,87.99 304.00,87.84 304.50,87.81 305.00,88.15 305.50,87.97 306.00,88.40 306.50,88.30 307.00,88.34 307.50,87.78 308.00,87.60 308.50,87.54 309.00,87.73 309.50,87.76 310.00,87.43 310.50,87.09 311.00,86.97 311.50,86.79 312.00,86.42 312.50,86.01 313.00,85.64 313.50,85.25 314.00,84.90 314.50,85.72 315.00,85.79 315.50,86.43 316.00,86.69 316.50,87.25 317.00,87.11 317.50,87.32 318.00,87.46 318.50,87.50 319.00,88.10 319.50,87.95 320.00,87.83 320.50,87.93 321.00,88.38 321.50,88.07 322.00,87.90 322.50,88.33 323.00,88.24 323.50,88.49 324.00,87.88 324.50,88.15 325.00,88.40 325.50,88.43 326.00,88.49 326.50,87.88 327.00,88.07 327.50,87.95 328.00,88.00 328.50,88.56 329.00,88.29 329.50,88.53 330.00,88.14 330.50,88.49 331.00,88.20 331.50,88.07 332.00,88.44 332.50,88.56 333.00,87.97 333.50,88.31 334.00,88.33 334.50,88.05 335.00,88.15 335.50,87.99 336.00,88.04 336.50,88.07 337.00,88.31 337.50,88.35 338.00,88.03 338.50,87.90 339.00,88.12 339.50,88.36 340.00,88.02 340.50,88.10 341.00,88.02 341.50,88.44 342.00,88.26 342.50,87.92 343.00,87.94 343.50,88.14 344.00,88.24 344.50,88.30 345.00,87.91 345.50,87.96 346.00,88.32 346.50,88.11 347.00,88.01 347.50,88.02 348.00,88.46 348.50,88.00 349.00,88.16 349.50,88.00 350.00,88.02 350.50,88.31 351.00,88.38 351.50,87.90 352.00,87.75 352.50,88.08 353.00,87.66 353.50,87.46 354.00,88.01 354.50,87.57 355.00,87.73 355.50,87.27 356.00,87.39 356.50,86.80 357.00,86.18 357.50,85.47 358.00,84.94 358.50,83.59 359.00,81.58 359.50,77.85 360.00,75.08 360.50,74.52 361.00,77.44 361.50,80.48 362.00,82.97 362.50,84.68 363.00,85.95 363.50,86.02 364.00,86.73 364.50,87.27 365.00,87.61 365.50,87.24 366.00,87.32 366.50,87.99 367.00,88.09 367.50,87.81 368.00,87.56 368.50,88.21 369.00,87.87 369.50,88.26 370.00,88.09 370.50,88.25 371.00,87.80 371.50,88.25 372.00,87.86 372.50,88.00 373.00,88.31 373.50,88.30 374.00,87.85 374.50,87.88 375.00,88.00 375.50,88.07 376.00,87.97 376.50,87.77 377.00,87.84 377.50,88.15 378.00,88.24 378.50,87.60 379.00,87.91 379.50,87.97 380.00,87.36 380.50,87.76 381.00,87.03 381.50,87.04 382.00,86.55 382.50,86.12 383.00,85.65 383.50,85.95 384.00,86.52 384.50,86.83 385.00,87.29 385.50,87.33 386.00,87.43 386.50,87.20 387.00,87.63 387.50,87.52 388.00,87.28 388.50,87.56 389.00,87.42 389.50,86.98 390.00,86.47 390.50,86.19 391.00,85.19 391.50,84.02 392.00,82.44 392.50,80.02 393.00,79.10 393.50,80.31 394.00,82.17 394.50,84.37 395.00,85.17 395.50,86.38 396.00,86.90 396.50,87.05 397.00,86.96 397.50,87.45 398.00,87.53 398.50,88.15 399.00,88.13 399.50,89.89 400.00,88.78 400.50,88.10 401.00,88.00 401.50,87.49 402.00,87.98 402.50,87.57 403.00,87.82 403.50,87.69 404.00,87.04 404.50,87.32 405.00,87.20 405.50,86.30 406.00,86.09 406.50,85.80 407.00,84.54 407.50,83.82 408.00,81.59 408.50,79.66 409.00,77.15 409.50,77.13 410.00,79.14 410.50,80.91 411.00,82.75 411.50,84.13 412.00,84.72 412.50,84.90 413.00,85.07 413.50,84.81 414.00,84.71 414.50,83.43 415.00,82.28 415.50,81.39 416.00,82.92 416.50,83.96 417.00,85.41 417.50,86.25 418.00,86.55 418.50,87.23 419.00,87.24 419.50,87.41 420.00,87.74 420.50,87.27 421.00,87.96 421.50,87.75 422.00,87.61 422.50,87.91 423.00,87.55 423.50,88.06 424.00,87.76 424.50,87.59 425.00,87.84 425.50,87.58 426.00,87.34 426.50,87.67 427.00,87.09 427.50,87.51 428.00,86.96 428.50,87.02 429.00,86.97 429.50,86.28 430.00,85.74 430.50,84.60 431.00,82.99 431.50,80.85 432.00,77.83 432.50,75.07 433.00,74.54 433.50,77.34 434.00,80.80 434.50,82.57 435.00,84.10 435.50,85.32 436.00,85.45 436.50,85.79 437.00,86.24 437.50,86.16 438.00,86.33 438.50,86.14 439.00,86.18 439.50,85.83 440.00,84.99 440.50,84.37 441.00,82.80 441.50,80.31 442.00,77.91 442.50,75.28 443.00,76.02 443.50,78.58 444.00,81.12 444.50,82.37 445.00,82.36 445.50,81.19 446.00,79.84 446.50,79.77 447.00,82.04 447.50,83.89 448.00,85.04 448.50,86.07 449.00,86.46 449.50,87.15 450.00,87.25 450.50,87.09 451.00,87.67 451.50,87.15 452.00,87.56 452.50,87.51 453.00,87.41 453.50,87.29 454.00,87.78 454.50,87.20 455.00,87.51 455.50,87.67 456.00,86.94 456.50,86.72 457.00,86.60 457.50,85.88 458.00,84.96 458.50,83.68 459.00,82.04 459.50,82.30 460.00,83.65 460.50,84.83 461.00,86.37 461.50,86.90 462.00,87.24 462.50,87.01 463.00,87.77 463.50,87.83 464.00,87.73 464.50,87.99 465.00,87.84 465.50,87.72 466.00,87.66 466.50,87.77 467.00,87.65 467.50,87.87 468.00,88.16 468.50,88.13 469.00,88.23 469.50,88.13 470.00,87.80 470.50,87.98 471.00,87.87 471.50,88.09 472.00,87.86 472.50,87.62 473.00,87.81 473.50,87.94 474.00,87.29 474.50,87.59 475.00,86.74 475.50,86.57 476.00,86.05 476.50,85.64 477.00,84.58 477.50,82.59 478.00,79.88 478.50,78.56 479.00,78.98 479.50,81.29 480.00,83.89 480.50,85.13 481.00,86.09 481.50,86.67 482.00,87.28 482.50,87.19 483.00,87.64 483.50,87.68 484.00,87.89 484.50,87.67 485.00,87.93 485.50,87.86 486.00,87.70 486.50,87.65 487.00,87.94 487.50,87.56 488.00,88.13 488.50,87.57 489.00,87.46 489.50,87.47 490.00,87.98 490.50,87.49 491.00,87.25 491.50,87.02 492.00,86.84 492.50,87.02 493.00,86.60 493.50,86.08 494.00,85.28 494.50,83.54 495.00,82.01 495.50,79.40 496.00,77.74 496.50,78.01 497.00,80.29 497.50,82.10 498.00,84.43 498.50,85.63 499.00,86.43 499.50,86.37 500.00,86.80 500.50,87.00 501.00,87.14 501.50,87.86 502.00,87.95 502.50,87.91 503.00,88.12 503.50,88.04 504.00,87.85 504.50,87.76 505.00,87.79 505.50,88.28 506.00,87.92 506.50,88.02 507.00,88.11 507.50,87.85 508.00,88.03 508.50,88.06 509.00,88.37 509.50,88.14 510.00,88.12 510.50,88.58 511.00,88.26 511.50,88.51 512.00,88.36 512.50,87.95 513.00,88.22 513.50,88.25 514.00,88.49 514.50,88.19 515.00,88.45 515.50,88.33 516.00,88.11 516.50,88.57 517.00,88.03 517.50,88.54 518.00,88.09 518.50,87.98 519.00,88.12 519.50,88.51 520.00,88.67 520.50,87.99 521.00,88.33 521.50,88.33 522.00,88.55 522.50,88.12 523.00,88.34 523.50,88.24 524.00,88.58 524.50,88.18 525.00,88.66 525.50,88.20 526.00,88.15 526.50,88.49 527.00,88.35 527.50,88.08 528.00,88.45" fill="none" stroke="#ec7c30" stroke-width="1.8" stroke-linejoin="round"/>
<polyline points="213.50,133.99 214.00,134.49 214.50,134.43 215.00,134.49 215.50,134.38 216.00,134.19 216.50,134.22 217.00,134.21 217.50,134.56 218.00,134.00 218.50,134.56 219.00,133.96 219.50,134.08 220.00,134.12 220.50,134.57 221.00,134.29 221.50,134.20 222.00,134.56 222.50,134.10 223.00,134.26 223.50,134.31 224.00,134.47 224.50,134.47 225.00,134.39 225.50,134.18 226.00,134.17 226.50,134.05 227.00,134.53 227.50,134.40 228.00,134.46 228.50,134.05 229.00,134.24 229.50,134.48 230.00,134.34 230.50,134.02 231.00,134.26 231.50,134.55 232.00,134.10 232.50,134.06 233.00,134.14 233.50,134.42 234.00,134.52 234.50,134.03 235.00,134.03 235.50,134.09 236.00,134.15 236.50,134.28 237.00,134.03 237.50,134.14 238.00,134.04 238.50,134.59 239.00,134.41 239.50,133.97 240.00,134.56 240.50,133.95 241.00,134.15 241.50,134.56 242.00,134.42 242.50,134.36 243.00,134.14 243.50,133.96 244.00,134.25 244.50,133.86 245.00,133.91 245.50,134.00 246.00,133.72 246.50,133.93 247.00,134.16 247.50,134.02 248.00,133.81 248.50,133.82 249.00,133.60 249.50,133.26 250.00,133.49 250.50,133.27 251.00,133.48 251.50,133.63 252.00,133.37 252.50,133.57 253.00,133.80 253.50,133.67 254.00,133.63 254.50,134.05 255.00,134.22 255.50,134.20 256.00,134.19 256.50,134.33 257.00,134.24 257.50,134.24 258.00,134.13 258.50,134.05 259.00,134.28 259.50,133.93 260.00,134.16 260.50,134.43 261.00,134.39 261.50,134.33 262.00,134.07 262.50,134.20 263.00,134.23 263.50,134.35 264.00,134.21 264.50,134.40 265.00,134.58 265.50,134.06 266.00,134.39 266.50,134.48 267.00,134.21 267.50,134.28 268.00,134.62 268.50,133.97 269.00,134.32 269.50,134.06 270.00,134.49 270.50,134.61 271.00,134.31 271.50,134.02 272.00,134.35 272.50,134.33 273.00,134.46 273.50,134.31 274.00,134.40 274.50,134.54 275.00,134.32 275.50,134.25 276.00,134.62 276.50,134.11 277.00,134.44 277.50,134.23 278.00,134.49 278.50,134.05 279.00,134.65 279.50,134.21 280.00,134.00 280.50,134.15 281.00,134.24 281.50,133.97 282.00,134.26 282.50,134.26 283.00,134.45 283.50,134.21 284.00,134.15 284.50,134.12 285.00,134.48 285.50,134.62 286.00,134.33 286.50,134.12 287.00,134.52 287.50,134.24 288.00,134.11 288.50,134.05 289.00,134.51 289.50,134.53 290.00,134.41 290.50,134.29 291.00,134.35 291.50,134.12 292.00,134.63 292.50,134.21 293.00,134.41 293.50,134.53 294.00,134.53 294.50,134.28 295.00,134.16 295.50,134.34 296.00,134.04 296.50,134.53 297.00,134.20 297.50,134.54 298.00,134.13 298.50,134.20 299.00,134.11 299.50,134.23 300.00,134.06 300.50,133.93 301.00,134.43 301.50,134.11 302.00,134.08 302.50,134.11 303.00,134.23 303.50,134.18 304.00,134.32 304.50,134.32 305.00,134.10 305.50,134.48 306.00,134.40 306.50,133.82 307.00,134.33 307.50,134.35 308.00,134.22 308.50,133.71 309.00,134.13 309.50,133.91 310.00,133.39 310.50,133.28 311.00,133.83 311.50,133.53 312.00,133.18 312.50,133.06 313.00,133.13 313.50,133.27 314.00,133.75 314.50,133.56 315.00,133.52 315.50,134.14 316.00,134.13 316.50,133.76 317.00,134.31 317.50,134.16 318.00,134.31 318.50,134.26 319.00,134.44 319.50,134.39 320.00,134.44 320.50,134.00 321.00,134.36 321.50,134.26 322.00,134.42 322.50,134.21 323.00,134.53 323.50,134.31 324.00,134.11 324.50,134.09 325.00,134.03 325.50,134.28 326.00,133.98 326.50,134.27 327.00,134.04 327.50,134.29 328.00,134.29 328.50,134.32 329.00,134.55 329.50,133.95 330.00,134.54 330.50,134.28 331.00,134.35 331.50,134.42 332.00,134.54 332.50,134.21 333.00,134.25 333.50,134.62 334.00,134.00 334.50,134.40 335.00,134.40 335.50,133.97 336.00,134.38 336.50,134.42 337.00,134.60 337.50,134.18 338.00,134.63 338.50,134.30 339.00,134.28 339.50,134.56 340.00,133.96 340.50,134.43 341.00,134.36 341.50,134.16 342.00,134.52 342.50,134.17 343.00,134.24 343.50,134.27 344.00,134.44 344.50,134.04 345.00,134.19 345.50,134.17 346.00,134.25 346.50,134.43 347.00,134.04 347.50,134.40 348.00,134.09 348.50,134.14 349.00,133.95 349.50,134.09 350.00,134.38 350.50,134.12 351.00,134.17 351.50,133.78 352.00,133.70 352.50,133.59 353.00,133.67 353.50,133.54 354.00,133.42 354.50,132.58 355.00,132.60 355.50,131.99 356.00,130.57 356.50,128.18 357.00,124.70 357.50,118.79 358.00,115.12 358.50,119.43 359.00,124.91 359.50,128.60 360.00,130.73 360.50,132.00 361.00,132.51 361.50,132.98 362.00,133.30 362.50,133.57 363.00,133.66 363.50,133.84 364.00,133.61 364.50,134.00 365.00,133.91 365.50,134.17 366.00,133.74 366.50,133.83 367.00,133.75 367.50,134.29 368.00,134.40 368.50,134.23 369.00,134.04 369.50,134.37 370.00,134.35 370.50,134.20 371.00,133.99 371.50,134.02 372.00,134.10 372.50,134.03 373.00,134.10 373.50,134.24 374.00,134.43 374.50,133.80 375.00,134.14 375.50,133.75 376.00,133.77 376.50,134.21 377.00,133.99 377.50,134.14 378.00,133.69 378.50,133.20 379.00,133.16 379.50,132.83 380.00,132.37 380.50,131.74 381.00,131.46 381.50,132.09 382.00,132.50 382.50,133.28 383.00,133.20 383.50,133.28 384.00,133.23 384.50,133.23 385.00,133.67 385.50,133.19 386.00,133.66 386.50,132.84 387.00,133.10 387.50,132.12 388.00,131.32 388.50,130.59 389.00,128.08 389.50,124.62 390.00,119.32 390.50,118.51 391.00,123.66 391.50,127.80 392.00,130.34 392.50,131.62 393.00,131.97 393.50,132.85 394.00,133.23 394.50,133.28 395.00,133.77 395.50,133.40 396.00,133.98 396.50,133.86 397.00,133.40 397.50,133.43 398.00,133.88 398.50,134.00 399.00,133.47 399.50,133.61 400.00,133.87 400.50,133.43 401.00,133.86 401.50,133.51 402.00,133.10 402.50,133.18 403.00,133.13 403.50,132.77 404.00,132.57 404.50,131.67 405.00,131.33 405.50,129.77 406.00,127.94 406.50,124.71 407.00,120.34 407.50,117.92 408.00,120.52 408.50,124.76 409.00,127.77 409.50,129.52 410.00,130.42 410.50,130.82 411.00,131.65 411.50,131.28 412.00,130.70 412.50,128.89 413.00,126.51 413.50,124.43 414.00,125.64 414.50,128.51 415.00,130.42 415.50,131.70 416.00,132.71 416.50,132.77 417.00,133.26 417.50,133.38 418.00,133.71 418.50,133.74 419.00,133.43 419.50,133.28 420.00,133.48 420.50,133.61 421.00,133.72 421.50,133.87 422.00,133.89 422.50,133.27 423.00,133.77 423.50,133.69 424.00,133.65 424.50,133.34 425.00,132.99 425.50,133.22 426.00,132.95 426.50,132.55 427.00,132.28 427.50,131.28 428.00,130.20 428.50,129.14 429.00,127.04 429.50,122.69 430.00,116.06 430.50,105.24 431.00,97.45 431.50,104.97 432.00,115.90 432.50,122.71 433.00,126.40 433.50,128.63 434.00,130.28 434.50,131.11 435.00,131.36 435.50,131.36 436.00,131.95 436.50,131.85 437.00,131.21 437.50,130.91 438.00,130.14 438.50,128.36 439.00,124.86 439.50,119.44 440.00,114.63 440.50,116.67 441.00,122.36 441.50,126.09 442.00,128.14 442.50,128.06 443.00,126.78 443.50,123.94 444.00,123.87 444.50,127.00 445.00,129.61 445.50,131.75 446.00,132.13 446.50,132.44 447.00,133.12 447.50,133.44 448.00,133.15 448.50,133.56 449.00,133.46 449.50,133.63 450.00,133.31 450.50,133.34 451.00,134.01 451.50,133.91 452.00,133.60 452.50,133.60 453.00,133.29 453.50,133.52 454.00,133.07 454.50,133.14 455.00,132.54 455.50,131.80 456.00,130.57 456.50,127.68 457.00,123.58 457.50,120.13 458.00,121.91 458.50,126.18 459.00,129.17 459.50,131.22 460.00,132.40 460.50,132.70 461.00,133.41 461.50,133.64 462.00,133.22 462.50,133.72 463.00,133.67 463.50,133.54 464.00,134.18 464.50,133.73 465.00,133.97 465.50,134.04 466.00,134.27 466.50,134.08 467.00,133.88 467.50,133.91 468.00,133.69 468.50,134.23 469.00,134.22 469.50,133.64 470.00,133.46 470.50,133.53 471.00,133.51 471.50,133.76 472.00,133.59 472.50,133.31 473.00,132.42 473.50,132.44 474.00,131.62 474.50,130.33 475.00,128.47 475.50,124.33 476.00,119.83 476.50,118.49 477.00,122.13 477.50,126.23 478.00,128.74 478.50,130.49 479.00,131.31 479.50,130.75 480.00,129.56 480.50,129.40 481.00,131.41 481.50,132.70 482.00,132.94 482.50,133.23 483.00,133.31 483.50,133.77 484.00,133.36 484.50,133.89 485.00,133.54 485.50,133.43 486.00,134.05 486.50,133.53 487.00,133.98 487.50,133.88 488.00,133.82 488.50,133.19 489.00,133.26 489.50,132.83 490.00,133.15 490.50,132.74 491.00,132.08 491.50,131.21 492.00,129.96 492.50,128.38 493.00,124.81 493.50,118.96 494.00,109.32 494.50,103.18 495.00,109.27 495.50,119.03 496.00,124.89 496.50,127.94 497.00,130.38 497.50,131.14 498.00,132.00 498.50,132.34 499.00,132.79 499.50,133.46 500.00,133.31 500.50,133.35 501.00,133.70 501.50,133.67 502.00,134.16 502.50,133.68 503.00,134.34 503.50,133.74 504.00,134.37 504.50,134.24 505.00,133.95 505.50,134.17 506.00,134.05 506.50,134.05 507.00,134.03 507.50,134.16 508.00,134.62 508.50,134.63 509.00,134.60 509.50,134.03 510.00,134.17 510.50,134.61 511.00,134.03 511.50,134.50 512.00,134.21 512.50,134.69 513.00,134.02 513.50,134.58 514.00,134.26 514.50,134.13 515.00,134.04 515.50,134.62 516.00,134.41 516.50,134.18 517.00,134.35 517.50,134.69 518.00,134.21 518.50,134.46 519.00,134.16 519.50,134.19 520.00,134.61 520.50,134.57 521.00,134.21 521.50,134.13 522.00,134.14 522.50,134.51 523.00,134.43 523.50,134.28 524.00,134.23 524.50,134.52 525.00,134.59 525.50,134.66 526.00,134.50 526.50,134.24 527.00,134.14 527.50,134.61 528.00,134.39" fill="none" stroke="#8c1cff" stroke-width="1.8" stroke-linejoin="round"/>
<polyline points="213.50,190.85 214.00,190.39 214.50,190.91 215.00,190.58 215.50,190.94 216.00,190.95 216.50,190.69 217.00,190.36 217.50,190.98 218.00,190.68 218.50,190.96 219.00,190.53 219.50,190.48 220.00,190.93 220.50,190.60 221.00,190.46 221.50,190.61 222.00,190.76 222.50,190.35 223.00,190.71 223.50,190.66 224.00,190.71 224.50,190.43 225.00,190.85 225.50,190.92 226.00,190.95 226.50,190.57 227.00,190.84 227.50,190.61 228.00,190.87 228.50,190.39 229.00,190.96 229.50,191.01 230.00,190.69 230.50,190.71 231.00,190.72 231.50,190.72 232.00,190.36 232.50,191.02 233.00,190.50 233.50,190.47 234.00,190.42 234.50,190.52 235.00,190.92 235.50,190.37 236.00,190.41 236.50,190.83 237.00,190.48 237.50,190.36 238.00,190.76 238.50,190.75 239.00,190.71 239.50,190.84 240.00,190.42 240.50,190.95 241.00,190.85 241.50,190.38 242.00,190.43 242.50,190.69 243.00,190.70 243.50,190.54 244.00,190.43 244.50,190.63 245.00,190.44 245.50,190.76 246.00,190.95 246.50,190.45 247.00,190.75 247.50,190.87 248.00,190.46 248.50,190.92 249.00,191.00 249.50,190.62 250.00,190.64 250.50,190.93 251.00,190.71 251.50,190.62 252.00,191.00 252.50,190.89 253.00,190.58 253.50,190.51 254.00,190.58 254.50,190.65 255.00,191.03 255.50,190.91 256.00,190.98 256.50,190.91 257.00,190.94 257.50,190.38 258.00,190.71 258.50,191.01 259.00,191.00 259.50,190.52 260.00,190.64 260.50,190.79 261.00,190.60 261.50,190.72 262.00,190.39 262.50,190.65 263.00,190.70 263.50,190.36 264.00,190.44 264.50,191.02 265.00,190.89 265.50,191.00 266.00,190.79 266.50,190.91 267.00,190.96 267.50,190.96 268.00,190.37 268.50,190.79 269.00,190.53 269.50,190.82 270.00,190.53 270.50,190.72 271.00,190.99 271.50,190.78 272.00,190.52 272.50,190.71 273.00,190.65 273.50,191.01 274.00,190.54 274.50,190.56 275.00,190.80 275.50,190.43 276.00,190.76 276.50,191.01 277.00,190.70 277.50,190.53 278.00,190.67 278.50,190.72 279.00,190.45 279.50,190.43 280.00,190.43 280.50,190.55 281.00,190.63 281.50,190.54 282.00,190.51 282.50,190.40 283.00,190.72 283.50,190.93 284.00,190.77 284.50,190.74 285.00,190.80 285.50,190.48 286.00,190.84 286.50,190.66 287.00,190.72 287.50,190.77 288.00,190.67 288.50,190.56 289.00,190.51 289.50,190.50 290.00,190.70 290.50,190.61 291.00,190.75 291.50,190.35 292.00,190.59 292.50,190.94 293.00,190.51 293.50,190.73 294.00,190.68 294.50,190.54 295.00,191.03 295.50,190.55 296.00,190.88 296.50,190.45 297.00,190.39 297.50,190.95 298.00,190.65 298.50,190.38 299.00,190.61 299.50,190.65 300.00,190.85 300.50,190.41 301.00,190.50 301.50,191.01 302.00,190.85 302.50,190.45 303.00,190.57 303.50,190.58 304.00,190.81 304.50,190.77 305.00,190.93 305.50,190.91 306.00,190.70 306.50,190.85 307.00,190.86 307.50,190.87 308.00,190.67 308.50,190.89 309.00,190.83 309.50,190.98 310.00,190.42 310.50,190.94 311.00,190.34 311.50,190.87 312.00,190.74 312.50,190.68 313.00,191.01 313.50,190.73 314.00,190.63 314.50,190.88 315.00,190.94 315.50,190.76 316.00,190.60 316.50,190.65 317.00,190.65 317.50,190.84 318.00,190.54 318.50,190.61 319.00,190.72 319.50,190.60 320.00,190.56 320.50,190.88 321.00,190.92 321.50,190.68 322.00,190.64 322.50,190.46 323.00,190.54 323.50,190.43 324.00,190.73 324.50,190.73 325.00,190.39 325.50,190.97 326.00,190.55 326.50,190.92 327.00,190.91 327.50,191.00 328.00,190.47 328.50,190.62 329.00,190.96 329.50,190.33 330.00,190.36 330.50,190.72 331.00,190.67 331.50,190.96 332.00,190.86 332.50,190.70 333.00,191.02 333.50,190.68 334.00,190.68 334.50,190.80 335.00,190.59 335.50,190.56 336.00,190.73 336.50,190.56 337.00,190.97 337.50,190.78 338.00,190.68 338.50,190.38 339.00,190.57 339.50,190.58 340.00,190.70 340.50,190.70 341.00,190.91 341.50,190.97 342.00,190.63 342.50,190.60 343.00,190.73 343.50,190.98 344.00,190.52 344.50,190.65 345.00,190.85 345.50,190.39 346.00,190.49 346.50,190.94 347.00,190.83 347.50,190.60 348.00,190.32 348.50,190.85 349.00,190.70 349.50,190.78 350.00,190.88 350.50,190.79 351.00,190.44 351.50,190.23 352.00,190.29 352.50,190.40 353.00,190.34 353.50,190.04 354.00,189.94 354.50,190.10 355.00,189.87 355.50,189.36 356.00,189.24 356.50,187.98 357.00,185.64 357.50,182.57 358.00,180.36 358.50,182.50 359.00,186.09 359.50,187.53 360.00,188.75 360.50,189.69 361.00,189.85 361.50,190.12 362.00,189.93 362.50,190.24 363.00,190.35 363.50,190.21 364.00,190.51 364.50,190.47 365.00,190.82 365.50,190.54 366.00,190.44 366.50,190.25 367.00,190.29 367.50,190.72 368.00,190.26 368.50,190.26 369.00,190.32 369.50,190.57 370.00,190.78 370.50,190.63 371.00,190.76 371.50,190.24 372.00,190.20 372.50,190.73 373.00,190.41 373.50,190.68 374.00,190.42 374.50,190.28 375.00,190.33 375.50,190.20 376.00,190.74 376.50,190.48 377.00,190.28 377.50,190.30 378.00,190.19 378.50,189.85 379.00,190.27 379.50,189.79 380.00,189.64 380.50,188.74 381.00,188.56 381.50,188.57 382.00,188.93 382.50,189.93 383.00,190.09 383.50,189.83 384.00,190.29 384.50,190.24 385.00,189.85 385.50,189.99 386.00,190.12 386.50,189.63 387.00,189.69 387.50,188.80 388.00,188.25 388.50,187.36 389.00,184.95 389.50,181.09 390.00,175.79 390.50,174.63 391.00,180.35 391.50,184.36 392.00,186.66 392.50,188.05 393.00,188.65 393.50,189.64 394.00,189.45 394.50,189.83 395.00,189.65 395.50,190.04 396.00,190.01 396.50,190.07 397.00,189.87 397.50,189.93 398.00,190.43 398.50,190.11 399.00,190.03 399.50,189.98 400.00,190.03 400.50,189.97 401.00,189.79 401.50,190.18 402.00,189.89 402.50,189.67 403.00,189.94 403.50,189.35 404.00,189.26 404.50,189.34 405.00,188.38 405.50,187.88 406.00,186.99 406.50,184.99 407.00,181.31 407.50,177.69 408.00,177.41 408.50,180.58 409.00,184.37 409.50,185.94 410.00,187.62 410.50,187.92 411.00,187.95 411.50,188.00 412.00,187.23 412.50,186.35 413.00,183.53 413.50,181.41 414.00,182.63 414.50,185.54 415.00,187.36 415.50,188.62 416.00,188.90 416.50,189.70 417.00,189.38 417.50,189.79 418.00,189.91 418.50,189.78 419.00,190.17 419.50,189.92 420.00,190.12 420.50,190.06 421.00,189.87 421.50,189.90 422.00,189.66 422.50,189.68 423.00,190.09 423.50,189.65 424.00,189.79 424.50,189.29 425.00,189.45 425.50,189.12 426.00,188.96 426.50,188.47 427.00,187.84 427.50,187.33 428.00,186.27 428.50,184.63 429.00,182.43 429.50,177.44 430.00,168.63 430.50,153.58 431.00,142.01 431.50,153.52 432.00,168.87 432.50,177.22 433.00,181.97 433.50,184.36 434.00,186.32 434.50,187.24 435.00,187.61 435.50,188.01 436.00,188.36 436.50,188.43 437.00,187.98 437.50,188.06 438.00,187.02 438.50,185.87 439.00,182.94 439.50,178.09 440.00,173.74 440.50,176.12 441.00,181.58 441.50,184.40 442.00,185.90 442.50,186.38 443.00,185.84 443.50,184.60 444.00,184.65 444.50,186.24 445.00,187.88 445.50,188.91 446.00,189.05 446.50,189.78 447.00,189.77 447.50,189.99 448.00,189.75 448.50,189.93 449.00,190.14 449.50,189.93 450.00,189.70 450.50,190.28 451.00,190.22 451.50,189.84 452.00,189.62 452.50,190.12 453.00,189.84 453.50,189.30 454.00,189.21 454.50,188.79 455.00,188.75 455.50,187.48 456.00,186.45 456.50,183.45 457.00,177.74 457.50,172.86 458.00,175.40 458.50,181.68 459.00,185.47 459.50,187.06 460.00,188.00 460.50,189.24 461.00,189.28 461.50,189.90 462.00,189.92 462.50,190.08 463.00,190.25 463.50,190.18 464.00,190.11 464.50,189.87 465.00,190.35 465.50,190.19 466.00,190.26 466.50,190.56 467.00,190.01 467.50,190.45 468.00,189.94 468.50,190.39 469.00,190.44 469.50,190.03 470.00,190.19 470.50,190.44 471.00,190.14 471.50,189.98 472.00,189.65 472.50,189.34 473.00,189.30 473.50,188.97 474.00,188.24 474.50,187.35 475.00,185.54 475.50,182.93 476.00,178.57 476.50,176.47 477.00,180.04 477.50,184.18 478.00,186.53 478.50,188.21 479.00,188.58 479.50,189.02 480.00,189.74 480.50,189.43 481.00,189.87 481.50,189.81 482.00,190.22 482.50,190.08 483.00,190.26 483.50,189.87 484.00,190.22 484.50,190.17 485.00,190.07 485.50,190.26 486.00,190.27 486.50,189.73 487.00,189.79 487.50,189.77 488.00,189.56 488.50,189.34 489.00,189.33 489.50,189.06 490.00,189.12 490.50,188.54 491.00,187.73 491.50,187.03 492.00,185.79 492.50,183.48 493.00,179.32 493.50,171.61 494.00,158.34 494.50,149.17 495.00,158.86 495.50,171.63 496.00,179.72 496.50,183.93 497.00,185.89 497.50,186.91 498.00,188.04 498.50,188.58 499.00,188.82 499.50,189.37 500.00,189.21 500.50,190.02 501.00,189.97 501.50,190.06 502.00,190.37 502.50,190.24 503.00,190.02 503.50,190.07 504.00,190.03 504.50,189.99 505.00,190.55 505.50,190.62 506.00,190.27 506.50,190.21 507.00,190.55 507.50,190.71 508.00,190.78 508.50,190.26 509.00,190.71 509.50,190.75 510.00,190.70 510.50,190.42 511.00,190.32 511.50,190.78 512.00,190.43 512.50,190.48 513.00,190.61 513.50,190.49 514.00,190.82 514.50,190.41 515.00,190.27 515.50,190.64 516.00,190.69 516.50,190.83 517.00,190.75 517.50,190.90 518.00,190.93 518.50,190.61 519.00,190.62 519.50,190.38 520.00,190.49 520.50,190.69 521.00,190.34 521.50,190.76 522.00,190.40 522.50,190.60 523.00,190.97 523.50,190.35 524.00,190.32 524.50,190.60 525.00,190.43 525.50,190.80 526.00,190.30 526.50,190.89 527.00,190.90 527.50,190.85 528.00,190.60" fill="none" stroke="#1414ff" stroke-width="1.8" stroke-linejoin="round"/>
<polyline points="213.50,271.58 214.00,271.96 214.50,271.81 215.00,271.72 215.50,271.64 216.00,271.74 216.50,271.96 217.00,272.12 217.50,272.20 218.00,271.46 218.50,271.59 219.00,271.74 219.50,271.86 220.00,271.65 220.50,271.49 221.00,271.38 221.50,271.62 222.00,271.76 222.50,272.27 223.00,272.21 223.50,272.16 224.00,272.27 224.50,272.26 225.00,271.92 225.50,272.11 226.00,271.36 226.50,271.97 227.00,271.91 227.50,271.59 228.00,271.87 228.50,272.25 229.00,271.78 229.50,271.95 230.00,271.60 230.50,271.64 231.00,272.18 231.50,271.33 232.00,271.49 232.50,271.98 233.00,271.75 233.50,271.38 234.00,271.96 234.50,271.67 235.00,271.88 235.50,271.71 236.00,271.83 236.50,271.86 237.00,271.69 237.50,271.41 238.00,271.48 238.50,272.19 239.00,271.85 239.50,271.41 240.00,272.16 240.50,271.55 241.00,271.39 241.50,271.83 242.00,271.55 242.50,271.79 243.00,271.85 243.50,271.52 244.00,271.87 244.50,271.41 245.00,271.81 245.50,271.89 246.00,271.38 246.50,271.71 247.00,271.37 247.50,271.74 248.00,272.16 248.50,271.85 249.00,272.01 249.50,272.05 250.00,271.41 250.50,272.29 251.00,272.02 251.50,271.40 252.00,272.13 252.50,271.69 253.00,271.47 253.50,272.26 254.00,271.86 254.50,272.07 255.00,271.43 255.50,272.07 256.00,271.35 256.50,271.53 257.00,271.67 257.50,271.31 258.00,271.89 258.50,271.51 259.00,271.60 259.50,272.00 260.00,271.72 260.50,272.19 261.00,271.92 261.50,272.17 262.00,271.86 262.50,272.21 263.00,272.17 263.50,271.47 264.00,272.04 264.50,271.64 265.00,272.06 265.50,271.98 266.00,272.12 266.50,271.42 267.00,271.67 267.50,272.03 268.00,272.24 268.50,272.02 269.00,271.34 269.50,271.90 270.00,271.40 270.50,271.85 271.00,272.10 271.50,271.41 272.00,272.22 272.50,271.97 273.00,271.55 273.50,271.49 274.00,271.74 274.50,272.13 275.00,271.88 275.50,271.41 276.00,271.32 276.50,271.41 277.00,272.10 277.50,271.48 278.00,271.85 278.50,271.59 279.00,271.98 279.50,271.68 280.00,271.44 280.50,272.17 281.00,271.83 281.50,271.99 282.00,272.10 282.50,272.24 283.00,271.31 283.50,271.64 284.00,271.45 284.50,271.80 285.00,272.17 285.50,272.10 286.00,271.33 286.50,271.48 287.00,272.11 287.50,271.98 288.00,271.69 288.50,271.77 289.00,271.45 289.50,272.14 290.00,271.69 290.50,272.17 291.00,271.91 291.50,271.37 292.00,271.62 292.50,271.51 293.00,272.19 293.50,271.88 294.00,271.34 294.50,271.47 295.00,271.66 295.50,271.76 296.00,271.87 296.50,271.68 297.00,271.65 297.50,271.30 298.00,271.87 298.50,271.63 299.00,271.32 299.50,271.75 300.00,272.28 300.50,271.34 301.00,271.44 301.50,271.97 302.00,271.57 302.50,271.57 303.00,271.79 303.50,271.56 304.00,271.86 304.50,271.82 305.00,272.25 305.50,272.29 306.00,271.33 306.50,271.86 307.00,272.07 307.50,272.17 308.00,272.07 308.50,271.93 309.00,271.93 309.50,271.66 310.00,271.58 310.50,272.09 311.00,272.17 311.50,272.23 312.00,271.98 312.50,271.60 313.00,272.06 313.50,272.03 314.00,271.80 314.50,271.93 315.00,271.64 315.50,271.84 316.00,271.70 316.50,271.35 317.00,271.63 317.50,271.62 318.00,272.28 318.50,271.77 319.00,271.66 319.50,271.54 320.00,271.53 320.50,271.64 321.00,271.43 321.50,271.30 322.00,272.16 322.50,271.75 323.00,271.74 323.50,271.86 324.00,271.60 324.50,271.46 325.00,271.36 325.50,271.59 326.00,271.60 326.50,272.02 327.00,271.84 327.50,272.23 328.00,271.63 328.50,272.21 329.00,271.88 329.50,271.37 330.00,271.47 330.50,271.87 331.00,272.28 331.50,271.65 332.00,272.07 332.50,271.72 333.00,272.16 333.50,271.36 334.00,271.78 334.50,272.19 335.00,271.57 335.50,271.55 336.00,271.31 336.50,271.46 337.00,271.56 337.50,271.99 338.00,271.51 338.50,271.69 339.00,271.49 339.50,271.89 340.00,272.15 340.50,271.94 341.00,271.49 341.50,272.02 342.00,272.25 342.50,271.89 343.00,271.37 343.50,272.10 344.00,272.16 344.50,271.63 345.00,271.43 345.50,271.48 346.00,271.83 346.50,272.16 347.00,271.93 347.50,272.21 348.00,271.50 348.50,271.61 349.00,272.04 349.50,271.94 350.00,271.69 350.50,271.97 351.00,271.62 351.50,271.34 352.00,271.70 352.50,271.33 353.00,271.91 353.50,271.62 354.00,271.78 354.50,271.88 355.00,271.54 355.50,271.75 356.00,271.30 356.50,272.21 357.00,271.85 357.50,272.27 358.00,271.34 358.50,271.90 359.00,272.01 359.50,271.61 360.00,271.38 360.50,271.44 361.00,271.42 361.50,272.05 362.00,271.37 362.50,272.09 363.00,271.70 363.50,271.82 364.00,271.87 364.50,271.83 365.00,271.94 365.50,271.88 366.00,271.61 366.50,272.02 367.00,271.54 367.50,271.99 368.00,272.04 368.50,272.05 369.00,271.58 369.50,272.05 370.00,272.25 370.50,271.73 371.00,271.55 371.50,271.80 372.00,272.21 372.50,271.40 373.00,271.28 373.50,271.74 374.00,271.92 374.50,272.04 375.00,271.63 375.50,272.26 376.00,271.49 376.50,272.02 377.00,271.35 377.50,271.29 378.00,271.39 378.50,271.32 379.00,271.76 379.50,271.81 380.00,271.43 380.50,272.19 381.00,271.61 381.50,271.39 382.00,271.42 382.50,271.98 383.00,272.16 383.50,271.39 384.00,271.25 384.50,272.00 385.00,271.45 385.50,272.19 386.00,271.69 386.50,271.81 387.00,271.50 387.50,271.93 388.00,271.55 388.50,271.35 389.00,271.83 389.50,270.85 390.00,271.10 390.50,269.70 391.00,269.41 391.50,269.63 392.00,270.98 392.50,270.66 393.00,271.40 393.50,271.37 394.00,271.95 394.50,272.01 395.00,271.72 395.50,271.33 396.00,271.37 396.50,271.38 397.00,271.55 397.50,271.35 398.00,271.31 398.50,271.86 399.00,271.73 399.50,271.37 400.00,272.05 400.50,271.25 401.00,271.58 401.50,271.13 402.00,271.79 402.50,271.74 403.00,271.07 403.50,271.46 404.00,271.41 404.50,270.70 405.00,270.50 405.50,270.28 406.00,270.08 406.50,268.32 407.00,266.95 407.50,263.27 408.00,257.90 408.50,257.21 409.00,262.56 409.50,265.91 410.00,268.74 410.50,269.36 411.00,270.44 411.50,270.93 412.00,270.51 412.50,271.37 413.00,271.63 413.50,271.02 414.00,270.81 414.50,270.95 415.00,271.84 415.50,270.91 416.00,271.83 416.50,271.08 417.00,271.67 417.50,271.04 418.00,271.11 418.50,271.61 419.00,271.01 419.50,271.25 420.00,271.81 420.50,271.59 421.00,271.72 421.50,271.79 422.00,270.80 422.50,270.95 423.00,271.45 423.50,271.28 424.00,270.53 424.50,270.89 425.00,270.47 425.50,270.49 426.00,269.92 426.50,269.51 427.00,270.04 427.50,268.72 428.00,268.31 428.50,266.00 429.00,263.69 429.50,258.21 430.00,247.46 430.50,222.68 431.00,198.32 431.50,222.64 432.00,247.76 432.50,258.57 433.00,263.30 433.50,266.22 434.00,267.91 434.50,269.30 435.00,269.36 435.50,269.67 436.00,270.73 436.50,270.87 437.00,270.88 437.50,270.53 438.00,270.49 438.50,270.56 439.00,270.25 439.50,269.90 440.00,269.70 440.50,269.27 441.00,270.14 441.50,270.57 442.00,270.53 442.50,271.38 443.00,271.44 443.50,271.39 444.00,271.44 444.50,271.61 445.00,271.93 445.50,271.84 446.00,271.69 446.50,271.38 447.00,271.30 447.50,271.40 448.00,271.95 448.50,271.36 449.00,271.34 449.50,271.35 450.00,271.06 450.50,271.89 451.00,270.86 451.50,271.41 452.00,271.67 452.50,270.91 453.00,271.15 453.50,270.76 454.00,270.40 454.50,270.01 455.00,269.39 455.50,269.19 456.00,267.40 456.50,263.87 457.00,254.77 457.50,243.88 458.00,249.98 458.50,261.08 459.00,266.05 459.50,268.11 460.00,269.95 460.50,269.64 461.00,270.80 461.50,271.18 462.00,271.02 462.50,271.24 463.00,271.74 463.50,271.06 464.00,271.51 464.50,271.67 465.00,271.34 465.50,271.71 466.00,271.41 466.50,271.56 467.00,271.67 467.50,271.74 468.00,271.40 468.50,271.71 469.00,271.63 469.50,271.32 470.00,271.71 470.50,271.36 471.00,272.01 471.50,271.56 472.00,271.80 472.50,271.59 473.00,271.53 473.50,271.24 474.00,271.11 474.50,271.80 475.00,271.23 475.50,270.89 476.00,270.23 476.50,269.96 477.00,269.94 477.50,270.53 478.00,271.51 478.50,271.31 479.00,271.57 479.50,271.81 480.00,271.90 480.50,271.88 481.00,271.07 481.50,271.40 482.00,271.85 482.50,271.82 483.00,271.12 483.50,271.13 484.00,271.21 484.50,271.03 485.00,271.25 485.50,271.66 486.00,271.34 486.50,271.21 487.00,270.78 487.50,271.01 488.00,271.50 488.50,271.07 489.00,270.66 489.50,270.47 490.00,270.49 490.50,270.04 491.00,268.82 491.50,268.44 492.00,266.64 492.50,264.17 493.00,258.75 493.50,247.60 494.00,223.52 494.50,209.13 495.00,234.51 495.50,253.09 496.00,261.60 496.50,264.95 497.00,267.14 497.50,268.90 498.00,269.23 498.50,269.80 499.00,270.08 499.50,270.93 500.00,270.39 500.50,271.09 501.00,271.43 501.50,270.87 502.00,271.17 502.50,271.60 503.00,271.48 503.50,271.28 504.00,270.99 504.50,271.42 505.00,271.37 505.50,271.74 506.00,271.35 506.50,271.48 507.00,271.74 507.50,271.91 508.00,271.47 508.50,271.51 509.00,271.72 509.50,272.07 510.00,271.35 510.50,272.14 511.00,271.89 511.50,271.55 512.00,271.85 512.50,271.52 513.00,271.27 513.50,271.96 514.00,271.59 514.50,271.74 515.00,271.71 515.50,272.12 516.00,271.98 516.50,271.25 517.00,271.82 517.50,271.69 518.00,271.70 518.50,272.08 519.00,271.65 519.50,271.71 520.00,272.13 520.50,271.68 521.00,271.74 521.50,271.76 522.00,272.07 522.50,271.92 523.00,271.99 523.50,271.66 524.00,271.30 524.50,271.94 525.00,271.81 525.50,272.03 526.00,272.03 526.50,271.38 527.00,271.48 527.50,271.34 528.00,272.08" fill="none" stroke="#000" stroke-width="1.5" stroke-linejoin="round"/>
<text x="200.27" y="63.50" font-size="14.79" font-family="'Liberation Sans', Arial, sans-serif" fill="#7f8f22" textLength="34.88" lengthAdjust="spacingAndGlyphs" >130 K</text>
<text x="201.06" y="84.80" font-size="14.22" font-family="'Liberation Sans', Arial, sans-serif" fill="#ec7c30" textLength="28.09" lengthAdjust="spacingAndGlyphs" >90 K</text>
<text x="201.78" y="132.50" font-size="14.08" font-family="'Liberation Sans', Arial, sans-serif" fill="#8c1cff" textLength="28.36" lengthAdjust="spacingAndGlyphs" >40 K</text>
<text x="200.74" y="187.40" font-size="13.23" font-family="'Liberation Sans', Arial, sans-serif" fill="#1414ff" textLength="28.91" lengthAdjust="spacingAndGlyphs" >20 K</text>
<text x="201.76" y="267.30" font-size="13.51" font-family="'Liberation Sans', Arial, sans-serif" fill="#000" textLength="28.99" lengthAdjust="spacingAndGlyphs" >3.6K</text>
<line x1="239.7" y1="31.6" x2="496.9" y2="31.6" stroke="#6e6e6e" stroke-width="1.1"/>
<line x1="240.0" y1="31.1" x2="240.0" y2="47.3" stroke="#ff2a2a" stroke-width="0.9"/>
<path d="M237.4 45.9 L242.6 45.9 L240.0 51.3 Z" fill="#ff0000"/>
<line x1="254.5" y1="31.1" x2="254.5" y2="47.0" stroke="#ff2a2a" stroke-width="0.9"/>
<path d="M251.9 45.6 L257.1 45.6 L254.5 51.0 Z" fill="#ff0000"/>
<line x1="280.5" y1="31.1" x2="280.5" y2="47.0" stroke="#ff2a2a" stroke-width="0.9"/>
<path d="M277.9 45.6 L283.1 45.6 L280.5 51.0 Z" fill="#ff0000"/>
<line x1="313.5" y1="31.1" x2="313.5" y2="46.2" stroke="#ff2a2a" stroke-width="0.9"/>
<path d="M310.9 44.800000000000004 L316.1 44.800000000000004 L313.5 50.2 Z" fill="#ff0000"/>
<line x1="360.5" y1="31.1" x2="360.5" y2="46.0" stroke="#8858b8" stroke-width="0.9"/>
<path d="M357.9 44.6 L363.1 44.6 L360.5 50.0 Z" fill="#7030a0"/>
<line x1="383.5" y1="31.1" x2="383.5" y2="46.9" stroke="#8858b8" stroke-width="0.9"/>
<path d="M380.9 45.5 L386.1 45.5 L383.5 50.9 Z" fill="#7030a0"/>
<line x1="420.6" y1="31.1" x2="420.6" y2="45.0" stroke="#8858b8" stroke-width="0.9"/>
<path d="M418.0 43.6 L423.20000000000005 43.6 L420.6 49.0 Z" fill="#7030a0"/>
<line x1="449.5" y1="31.1" x2="449.5" y2="47.0" stroke="#8858b8" stroke-width="0.9"/>
<path d="M446.9 45.6 L452.1 45.6 L449.5 51.0 Z" fill="#7030a0"/>
<line x1="391.5" y1="31.1" x2="391.5" y2="46.8" stroke="#3434ff" stroke-width="0.9"/>
<path d="M388.9 45.4 L394.1 45.4 L391.5 50.8 Z" fill="#0000ff"/>
<line x1="416.6" y1="31.1" x2="416.6" y2="46.5" stroke="#3434ff" stroke-width="0.9"/>
<path d="M414.0 45.1 L419.20000000000005 45.1 L416.6 50.5 Z" fill="#0000ff"/>
<line x1="442.8" y1="31.1" x2="442.8" y2="46.2" stroke="#3434ff" stroke-width="0.9"/>
<path d="M440.2 44.800000000000004 L445.40000000000003 44.800000000000004 L442.8 50.2 Z" fill="#0000ff"/>
<line x1="478.7" y1="31.1" x2="478.7" y2="45.5" stroke="#3434ff" stroke-width="0.9"/>
<path d="M476.09999999999997 44.1 L481.3 44.1 L478.7 49.5 Z" fill="#0000ff"/>
<line x1="410.6" y1="31.1" x2="410.6" y2="45.7" stroke="#3a3a3a" stroke-width="0.9"/>
<path d="M408.0 44.300000000000004 L413.20000000000005 44.300000000000004 L410.6 49.7 Z" fill="#000"/>
<line x1="432.5" y1="31.1" x2="432.5" y2="45.8" stroke="#3a3a3a" stroke-width="0.9"/>
<path d="M429.9 44.4 L435.1 44.4 L432.5 49.8 Z" fill="#000"/>
<line x1="459.5" y1="31.1" x2="459.5" y2="45.6" stroke="#3a3a3a" stroke-width="0.9"/>
<path d="M456.9 44.2 L462.1 44.2 L459.5 49.6 Z" fill="#000"/>
<line x1="496.4" y1="31.1" x2="496.4" y2="46.4" stroke="#3a3a3a" stroke-width="0.9"/>
<path d="M493.79999999999995 45.0 L499.0 45.0 L496.4 50.4 Z" fill="#000"/>
<text x="235.66" y="21.10" font-size="19.77" font-family="'Liberation Sans', Arial, sans-serif" fill="#ff0000" textLength="10.41" lengthAdjust="spacingAndGlyphs" stroke="#ff0000" stroke-width="0.4" >Y</text>
<text x="245.89" y="26.10" font-size="13.51" font-family="'Liberation Sans', Arial, sans-serif" fill="#ff0000" textLength="7.44" lengthAdjust="spacingAndGlyphs" stroke="#ff0000" stroke-width="0.3" >4</text>
<text x="353.46" y="20.80" font-size="18.92" font-family="'Liberation Sans', Arial, sans-serif" fill="#7030a0" textLength="10.31" lengthAdjust="spacingAndGlyphs" stroke="#7030a0" stroke-width="0.4" >Y</text>
<text x="363.67" y="25.60" font-size="12.80" font-family="'Liberation Sans', Arial, sans-serif" fill="#7030a0" textLength="7.69" lengthAdjust="spacingAndGlyphs" stroke="#7030a0" stroke-width="0.3" >3</text>
<text x="384.76" y="19.60" font-size="19.63" font-family="'Liberation Sans', Arial, sans-serif" fill="#0000ff" textLength="10.41" lengthAdjust="spacingAndGlyphs" stroke="#0000ff" stroke-width="0.4" >Y</text>
<text x="394.89" y="24.60" font-size="14.36" font-family="'Liberation Sans', Arial, sans-serif" fill="#0000ff" textLength="7.24" lengthAdjust="spacingAndGlyphs" stroke="#0000ff" stroke-width="0.3" >2</text>
<text x="406.40" y="20.80" font-size="18.20" font-family="'Liberation Sans', Arial, sans-serif" fill="#000" textLength="8.33" lengthAdjust="spacingAndGlyphs" stroke="#000" stroke-width="0.4" >Y</text>
<text x="417.13" y="25.80" font-size="13.94" font-family="'Liberation Sans', Arial, sans-serif" fill="#000" stroke="#000" stroke-width="0.3" >1</text>
<rect x="46.8" y="330.9" width="481" height="32.3" fill="#c0c0c0"/>
<text x="58.08" y="351.90" font-size="13.87" font-family="'Liberation Serif', 'Times New Roman', serif" fill="#000" textLength="29.29" lengthAdjust="spacingAndGlyphs" >Term</text>
<text x="110.58" y="352.20" font-size="14.08" font-family="'Liberation Serif', 'Times New Roman', serif" fill="#000" textLength="31.89" lengthAdjust="spacingAndGlyphs" >Level</text>
<text x="178.59" y="352.20" font-size="14.63" font-family="'Liberation Serif', 'Times New Roman', serif" fill="#000" textLength="23.70" lengthAdjust="spacingAndGlyphs" >THz</text>
<text x="264.19" y="343.50" font-size="12.09" font-family="'Liberation Serif', 'Times New Roman', serif" fill="#000" textLength="69.17" lengthAdjust="spacingAndGlyphs" >Energy (to Z</text>
<text x="332.63" y="346.20" font-size="9.82" font-family="'Liberation Serif', 'Times New Roman', serif" fill="#000" >1</text>
<text x="337.29" y="343.71" font-size="13.23" font-family="'Liberation Serif', 'Times New Roman', serif" fill="#000" textLength="5.39" lengthAdjust="spacingAndGlyphs" >)</text>
<text x="285.49" y="359.40" font-size="11.97" font-family="'Liberation Serif', 'Times New Roman', serif" fill="#000" textLength="35.89" lengthAdjust="spacingAndGlyphs" >λ (nm)</text>
<text x="407.39" y="343.50" font-size="12.10" font-family="'Liberation Serif', 'Times New Roman', serif" fill="#000" textLength="86.07" lengthAdjust="spacingAndGlyphs" >Energy (from Y</text>
<text x="493.63" y="346.20" font-size="9.82" font-family="'Liberation Serif', 'Times New Roman', serif" fill="#000" >1</text>
<text x="497.85" y="343.71" font-size="13.23" font-family="'Liberation Serif', 'Times New Roman', serif" fill="#000" textLength="4.76" lengthAdjust="spacingAndGlyphs" >)</text>
<text x="436.49" y="359.40" font-size="11.97" font-family="'Liberation Serif', 'Times New Roman', serif" fill="#000" textLength="36.81" lengthAdjust="spacingAndGlyphs" >λ (nm)</text>
<text x="56.65" y="377.50" font-size="9.67" font-family="'Liberation Serif', 'Times New Roman', serif" fill="#000" textLength="4.91" lengthAdjust="spacingAndGlyphs" >4</text>
<text x="61.44" y="381.60" font-size="14.63" font-family="'Liberation Serif', 'Times New Roman', serif" fill="#000" font-weight="bold" font-style="italic" textLength="5.96" lengthAdjust="spacingAndGlyphs" >I</text>
<text x="66.98" y="384.44" font-size="10.18" font-family="'Liberation Serif', 'Times New Roman', serif" fill="#000" textLength="16.35" lengthAdjust="spacingAndGlyphs" >13/2</text>
<text x="56.76" y="548.90" font-size="8.93" font-family="'Liberation Serif', 'Times New Roman', serif" fill="#000" textLength="4.48" lengthAdjust="spacingAndGlyphs" >4</text>
<text x="61.35" y="553.70" font-size="15.09" font-family="'Liberation Serif', 'Times New Roman', serif" fill="#000" font-weight="bold" font-style="italic" textLength="6.14" lengthAdjust="spacingAndGlyphs" >I</text>
<text x="66.98" y="556.36" font-size="9.16" font-family="'Liberation Serif', 'Times New Roman', serif" fill="#000" textLength="16.35" lengthAdjust="spacingAndGlyphs" >15/2</text>
<text x="120.00" y="387.90" font-size="14.02" font-family="'Liberation Serif', 'Times New Roman', serif" fill="#000" textLength="9.55" lengthAdjust="spacingAndGlyphs" >Y</text>
<text x="129.33" y="390.75" font-size="9.38" font-family="'Liberation Serif', 'Times New Roman', serif" fill="#000" textLength="4.98" lengthAdjust="spacingAndGlyphs" >5</text>
<text x="120.00" y="421.80" font-size="14.63" font-family="'Liberation Serif', 'Times New Roman', serif" fill="#000" textLength="9.55" lengthAdjust="spacingAndGlyphs" >Y</text>
<text x="129.66" y="425.00" font-size="9.38" font-family="'Liberation Serif', 'Times New Roman', serif" fill="#000" textLength="4.48" lengthAdjust="spacingAndGlyphs" >4</text>
<text x="120.00" y="451.50" font-size="14.63" font-family="'Liberation Serif', 'Times New Roman', serif" fill="#000" textLength="9.55" lengthAdjust="spacingAndGlyphs" >Y</text>
<text x="129.33" y="453.76" font-size="9.16" font-family="'Liberation Serif', 'Times New Roman', serif" fill="#000" textLength="4.98" lengthAdjust="spacingAndGlyphs" >3</text>
<text x="120.00" y="480.70" font-size="15.09" font-family="'Liberation Serif', 'Times New Roman', serif" fill="#000" textLength="9.55" lengthAdjust="spacingAndGlyphs" >Y</text>
<text x="129.49" y="483.60" font-size="9.38" font-family="'Liberation Serif', 'Times New Roman', serif" fill="#000" textLength="4.98" lengthAdjust="spacingAndGlyphs" >2</text>
<text x="120.00" y="509.30" font-size="14.17" font-family="'Liberation Serif', 'Times New Roman', serif" fill="#000" textLength="9.55" lengthAdjust="spacingAndGlyphs" >Y</text>
<text x="129.27" y="512.20" font-size="9.38" font-family="'Liberation Serif', 'Times New Roman', serif" fill="#000" >1</text>
<text x="119.90" y="560.30" font-size="15.54" font-family="'Liberation Serif', 'Times New Roman', serif" fill="#000" textLength="9.12" lengthAdjust="spacingAndGlyphs" >Z</text>
<text x="128.47" y="562.85" font-size="9.38" font-family="'Liberation Serif', 'Times New Roman', serif" fill="#000" textLength="4.62" lengthAdjust="spacingAndGlyphs" >5</text>
<text x="119.90" y="594.60" font-size="14.93" font-family="'Liberation Serif', 'Times New Roman', serif" fill="#000" >Z</text>
<text x="128.77" y="597.00" font-size="9.38" font-family="'Liberation Serif', 'Times New Roman', serif" fill="#000" textLength="4.16" lengthAdjust="spacingAndGlyphs" >4</text>
<text x="119.90" y="623.60" font-size="14.93" font-family="'Liberation Serif', 'Times New Roman', serif" fill="#000" >Z</text>
<text x="128.47" y="626.06" font-size="9.16" font-family="'Liberation Serif', 'Times New Roman', serif" fill="#000" textLength="4.62" lengthAdjust="spacingAndGlyphs" >3</text>
<text x="119.90" y="653.20" font-size="15.54" font-family="'Liberation Serif', 'Times New Roman', serif" fill="#000" textLength="9.12" lengthAdjust="spacingAndGlyphs" >Z</text>
<text x="128.61" y="655.80" font-size="9.38" font-family="'Liberation Serif', 'Times New Roman', serif" fill="#000" textLength="4.62" lengthAdjust="spacingAndGlyphs" >2</text>
<text x="119.90" y="680.70" font-size="15.54" font-family="'Liberation Serif', 'Times New Roman', serif" fill="#000" textLength="9.12" lengthAdjust="spacingAndGlyphs" >Z</text>
<text x="128.47" y="683.40" font-size="9.38" font-family="'Liberation Serif', 'Times New Roman', serif" fill="#000" >1</text>
<text x="181.42" y="380.90" font-size="14.02" font-family="'Liberation Serif', 'Times New Roman', serif" fill="#000" textLength="17.54" lengthAdjust="spacingAndGlyphs" >Not</text>
<text x="168.22" y="394.60" font-size="13.65" font-family="'Liberation Serif', 'Times New Roman', serif" fill="#000" textLength="43.68" lengthAdjust="spacingAndGlyphs" >observed</text>
<text x="181.01" y="552.70" font-size="14.02" font-family="'Liberation Serif', 'Times New Roman', serif" fill="#000" textLength="18.15" lengthAdjust="spacingAndGlyphs" >Not</text>
<text x="168.12" y="566.50" font-size="13.65" font-family="'Liberation Serif', 'Times New Roman', serif" fill="#000" textLength="43.38" lengthAdjust="spacingAndGlyphs" >observed</text>
<text x="167.24" y="421.80" font-size="13.69" font-family="'Liberation Serif', 'Times New Roman', serif" fill="#000" textLength="45.94" lengthAdjust="spacingAndGlyphs" >198.6960</text>
<text x="167.24" y="451.00" font-size="13.69" font-family="'Liberation Serif', 'Times New Roman', serif" fill="#000" textLength="45.94" lengthAdjust="spacingAndGlyphs" >196.6239</text>
<text x="167.24" y="480.50" font-size="13.69" font-family="'Liberation Serif', 'Times New Roman', serif" fill="#000" textLength="45.94" lengthAdjust="spacingAndGlyphs" >196.1223</text>
<text x="167.25" y="509.00" font-size="13.69" font-family="'Liberation Serif', 'Times New Roman', serif" fill="#000" textLength="45.74" lengthAdjust="spacingAndGlyphs" >195.8404</text>
<text x="172.84" y="594.10" font-size="12.80" font-family="'Liberation Serif', 'Times New Roman', serif" fill="#000" textLength="33.73" lengthAdjust="spacingAndGlyphs" >1.3341</text>
<text x="173.43" y="622.90" font-size="12.80" font-family="'Liberation Serif', 'Times New Roman', serif" fill="#000" textLength="32.95" lengthAdjust="spacingAndGlyphs" >0.7709</text>
<text x="173.43" y="652.00" font-size="12.80" font-family="'Liberation Serif', 'Times New Roman', serif" fill="#000" textLength="32.95" lengthAdjust="spacingAndGlyphs" >0.3575</text>
<text x="186.66" y="680.00" font-size="12.80" font-family="'Liberation Serif', 'Times New Roman', serif" fill="#000" textLength="7.09" lengthAdjust="spacingAndGlyphs" >0</text>
<line x1="225" y1="377.5" x2="381.8" y2="377.5" stroke="#262626" stroke-width="1.7"/>
<line x1="225" y1="416.9" x2="381.8" y2="416.9" stroke="#262626" stroke-width="1.7"/>
<line x1="225" y1="446.1" x2="381.8" y2="446.1" stroke="#262626" stroke-width="1.7"/>
<line x1="225" y1="475.3" x2="381.8" y2="475.3" stroke="#262626" stroke-width="1.7"/>
<line x1="225" y1="550.0" x2="381.8" y2="550.0" stroke="#262626" stroke-width="1.7"/>
<line x1="225" y1="676.8" x2="381.8" y2="676.8" stroke="#262626" stroke-width="1.7"/>
<line x1="225" y1="504.8" x2="527.8" y2="504.8" stroke="#262626" stroke-width="1.7"/>
<line x1="225" y1="589.4" x2="527.8" y2="589.4" stroke="#262626" stroke-width="1.7"/>
<line x1="225" y1="618.4" x2="527.8" y2="618.4" stroke="#262626" stroke-width="1.7"/>
<line x1="225" y1="647.6" x2="527.8" y2="647.6" stroke="#262626" stroke-width="1.7"/>
<line x1="243.7" y1="417.6" x2="243.7" y2="668.9" stroke="#ff3030" stroke-width="1.1"/>
<path d="M239.6 667.1999999999999 L247.79999999999998 667.1999999999999 L243.7 674.9 Z" fill="#ff1a1a"/>
<line x1="272.7" y1="446.8" x2="272.7" y2="668.9" stroke="#ff3030" stroke-width="1.1"/>
<path d="M268.59999999999997 667.1999999999999 L276.8 667.1999999999999 L272.7 674.9 Z" fill="#ff1a1a"/>
<line x1="299.2" y1="476.0" x2="299.2" y2="668.9" stroke="#ff3030" stroke-width="1.1"/>
<path d="M295.09999999999997 667.1999999999999 L303.3 667.1999999999999 L299.2 674.9 Z" fill="#ff1a1a"/>
<line x1="330.0" y1="505.5" x2="330.0" y2="668.9" stroke="#ff3030" stroke-width="1.1"/>
<path d="M325.9 667.1999999999999 L334.1 667.1999999999999 L330.0 674.9 Z" fill="#ff1a1a"/>
<line x1="408.6" y1="505.5" x2="408.6" y2="640.4" stroke="#ff3030" stroke-width="1.1"/>
<path d="M404.5 638.6999999999999 L412.70000000000005 638.6999999999999 L408.6 646.4 Z" fill="#ff1a1a"/>
<line x1="452.8" y1="505.5" x2="452.8" y2="609.8" stroke="#ff3030" stroke-width="1.1"/>
<path d="M448.7 608.0999999999999 L456.90000000000003 608.0999999999999 L452.8 615.8 Z" fill="#ff1a1a"/>
<line x1="492.7" y1="505.5" x2="492.7" y2="581.3" stroke="#ff3030" stroke-width="1.1"/>
<path d="M488.59999999999997 579.5999999999999 L496.8 579.5999999999999 L492.7 587.3 Z" fill="#ff1a1a"/>
<text x="225.37" y="414.40" font-size="12.65" font-family="'Liberation Serif', 'Times New Roman', serif" fill="#000" textLength="32.91" lengthAdjust="spacingAndGlyphs" >1508.8</text>
<text x="255.04" y="443.50" font-size="12.65" font-family="'Liberation Serif', 'Times New Roman', serif" fill="#000" textLength="33.85" lengthAdjust="spacingAndGlyphs" >1524.7</text>
<text x="285.65" y="472.70" font-size="12.65" font-family="'Liberation Serif', 'Times New Roman', serif" fill="#000" textLength="33.44" lengthAdjust="spacingAndGlyphs" >1528.6</text>
<text x="316.77" y="502.00" font-size="12.65" font-family="'Liberation Serif', 'Times New Roman', serif" fill="#000" textLength="38.72" lengthAdjust="spacingAndGlyphs" >1530.74</text>
<text x="393.84" y="660.00" font-size="12.65" font-family="'Liberation Serif', 'Times New Roman', serif" fill="#000" textLength="39.84" lengthAdjust="spacingAndGlyphs" >1533.59</text>
<text x="433.25" y="629.70" font-size="12.65" font-family="'Liberation Serif', 'Times New Roman', serif" fill="#000" textLength="39.64" lengthAdjust="spacingAndGlyphs" >1536.76</text>
<text x="469.54" y="601.30" font-size="12.65" font-family="'Liberation Serif', 'Times New Roman', serif" fill="#000" textLength="39.84" lengthAdjust="spacingAndGlyphs" >1541.28</text>
</svg>
</body></html>
